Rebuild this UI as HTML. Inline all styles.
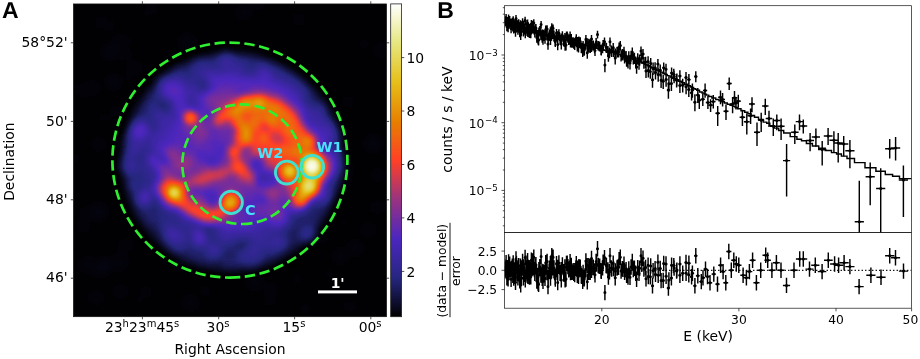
<!DOCTYPE html>
<html lang="en"><head><meta charset="utf-8"><title>Figure</title>
<style>
html,body{margin:0;padding:0;background:#fff;}
svg{display:block;}
text{font-family:"DejaVu Sans", "Liberation Sans", sans-serif;fill:#000;}
.b{font-family:"Liberation Sans", "DejaVu Sans", sans-serif;font-weight:700;}
.t{font-size:13.9px;}
.s{font-size:12.3px;}
.ax{stroke:#1a1a1a;stroke-width:.72;fill:none;}
.tk{stroke:#1a1a1a;stroke-width:.75;}
.d{stroke:#000;stroke-width:1.45;fill:none;}
</style></head><body>
<svg width="920" height="359" viewBox="0 0 920 359">
<defs>
<filter id="cmap" x="0" y="0" width="100%" height="100%" color-interpolation-filters="sRGB">
<feComponentTransfer>
<feFuncR type="table" tableValues="0 0.15 0.3 0.6 1 0.9 0.9 0.9 1"/>
<feFuncG type="table" tableValues="0 0.15 0.15 0.2 0.25 0.5 0.75 0.9 1"/>
<feFuncB type="table" tableValues="0 0.5 0.75 0.5 0.15 0 0.1 0.5 1"/>
</feComponentTransfer>
</filter>

<filter id="b14" x="-50%" y="-50%" width="200%" height="200%" color-interpolation-filters="sRGB"><feGaussianBlur stdDeviation="14"/></filter>
<filter id="b9" x="-50%" y="-50%" width="200%" height="200%" color-interpolation-filters="sRGB"><feGaussianBlur stdDeviation="9"/></filter>
<filter id="b6" x="-50%" y="-50%" width="200%" height="200%" color-interpolation-filters="sRGB"><feGaussianBlur stdDeviation="6"/></filter>
<filter id="b4" x="-50%" y="-50%" width="200%" height="200%" color-interpolation-filters="sRGB"><feGaussianBlur stdDeviation="4"/></filter>
<filter id="b3" x="-50%" y="-50%" width="200%" height="200%" color-interpolation-filters="sRGB"><feGaussianBlur stdDeviation="3"/></filter>
<filter id="b2" x="-50%" y="-50%" width="200%" height="200%" color-interpolation-filters="sRGB"><feGaussianBlur stdDeviation="2"/></filter>
<filter id="b15" x="-50%" y="-50%" width="200%" height="200%" color-interpolation-filters="sRGB"><feGaussianBlur stdDeviation="1.5"/></filter>
<clipPath id="imclip"><rect x="73.4" y="3.9" width="313.20000000000005" height="312.8"/></clipPath>
<clipPath id="pc1"><rect x="504.6" y="5.7" width="407.0" height="226.8"/></clipPath>
<clipPath id="pc2"><rect x="504.6" y="232.5" width="407.0" height="75.69999999999999"/></clipPath>
<linearGradient id="cbg" x1="0" y1="1" x2="0" y2="0"><stop offset="0.0" stop-color="#000000"/><stop offset="0.125" stop-color="#262680"/><stop offset="0.25" stop-color="#4c26bf"/><stop offset="0.375" stop-color="#993380"/><stop offset="0.5" stop-color="#ff4026"/><stop offset="0.625" stop-color="#e68000"/><stop offset="0.75" stop-color="#e6bf1a"/><stop offset="0.875" stop-color="#e6e680"/><stop offset="1.0" stop-color="#ffffff"/></linearGradient>
</defs>
<g clip-path="url(#imclip)"><g filter="url(#cmap)">
<rect x="53.400000000000006" y="-16.1" width="353.20000000000005" height="352.8" fill="#000"/>
<g filter="url(#b4)">
<rect x="53.400000000000006" y="-16.1" width="353.20000000000005" height="352.8" fill="#fff" fill-opacity="0.004"/>
<circle cx="174.8" cy="51.1" r="6.6" fill="#fff" fill-opacity="0.003"/>
<circle cx="241.2" cy="118.3" r="4.2" fill="#fff" fill-opacity="0.008"/>
<circle cx="85.1" cy="139.5" r="4.3" fill="#fff" fill-opacity="0.003"/>
<circle cx="206.4" cy="262.5" r="4.5" fill="#fff" fill-opacity="0.005"/>
<circle cx="269.9" cy="300.3" r="6.3" fill="#fff" fill-opacity="0.007"/>
<circle cx="379.2" cy="18.5" r="7.4" fill="#fff" fill-opacity="0.005"/>
<circle cx="118.6" cy="40.7" r="5.2" fill="#fff" fill-opacity="0.012"/>
<circle cx="130.0" cy="185.8" r="6.6" fill="#fff" fill-opacity="0.006"/>
<circle cx="245.0" cy="23.5" r="4.2" fill="#fff" fill-opacity="0.004"/>
<circle cx="286.5" cy="137.7" r="5.3" fill="#fff" fill-opacity="0.009"/>
<circle cx="215.3" cy="97.7" r="7.2" fill="#fff" fill-opacity="0.01"/>
<circle cx="149.9" cy="183.6" r="6.1" fill="#fff" fill-opacity="0.013"/>
<circle cx="301.9" cy="94.0" r="7.9" fill="#fff" fill-opacity="0.003"/>
<circle cx="204.4" cy="240.7" r="4.6" fill="#fff" fill-opacity="0.008"/>
<circle cx="85.7" cy="212.9" r="7.1" fill="#fff" fill-opacity="0.009"/>
<circle cx="347.6" cy="102.0" r="6.8" fill="#fff" fill-opacity="0.009"/>
<circle cx="255.0" cy="146.6" r="7.4" fill="#fff" fill-opacity="0.013"/>
<circle cx="221.9" cy="211.6" r="4.2" fill="#fff" fill-opacity="0.01"/>
<circle cx="276.1" cy="314.5" r="7.3" fill="#fff" fill-opacity="0.005"/>
<circle cx="194.2" cy="213.1" r="4.1" fill="#fff" fill-opacity="0.008"/>
<circle cx="126.0" cy="40.5" r="4.2" fill="#fff" fill-opacity="0.011"/>
<circle cx="113.9" cy="81.4" r="5.6" fill="#fff" fill-opacity="0.012"/>
<circle cx="98.6" cy="144.4" r="6.2" fill="#fff" fill-opacity="0.013"/>
<circle cx="330.0" cy="274.2" r="5.1" fill="#fff" fill-opacity="0.007"/>
<circle cx="185.8" cy="280.5" r="7.8" fill="#fff" fill-opacity="0.004"/>
<circle cx="128.6" cy="76.5" r="4.9" fill="#fff" fill-opacity="0.008"/>
<circle cx="257.9" cy="86.1" r="4.0" fill="#fff" fill-opacity="0.007"/>
<circle cx="189.1" cy="181.1" r="7.8" fill="#fff" fill-opacity="0.01"/>
<circle cx="234.9" cy="197.1" r="6.7" fill="#fff" fill-opacity="0.003"/>
<circle cx="355.1" cy="247.9" r="7.5" fill="#fff" fill-opacity="0.012"/>
<circle cx="196.3" cy="128.7" r="4.4" fill="#fff" fill-opacity="0.01"/>
<circle cx="92.9" cy="25.0" r="4.8" fill="#fff" fill-opacity="0.004"/>
<circle cx="179.9" cy="20.3" r="4.0" fill="#fff" fill-opacity="0.004"/>
<circle cx="105.2" cy="117.6" r="4.1" fill="#fff" fill-opacity="0.012"/>
<circle cx="265.7" cy="50.4" r="5.0" fill="#fff" fill-opacity="0.006"/>
<circle cx="187.5" cy="42.3" r="7.4" fill="#fff" fill-opacity="0.014"/>
<circle cx="219.3" cy="155.2" r="4.3" fill="#fff" fill-opacity="0.003"/>
<circle cx="180.7" cy="86.7" r="7.3" fill="#fff" fill-opacity="0.004"/>
<circle cx="80.6" cy="301.4" r="6.1" fill="#fff" fill-opacity="0.004"/>
<circle cx="243.5" cy="12.4" r="6.1" fill="#fff" fill-opacity="0.014"/>
<circle cx="343.8" cy="221.7" r="5.0" fill="#fff" fill-opacity="0.006"/>
<circle cx="125.7" cy="245.4" r="6.1" fill="#fff" fill-opacity="0.011"/>
<circle cx="176.7" cy="73.7" r="7.2" fill="#fff" fill-opacity="0.014"/>
<circle cx="340.4" cy="256.0" r="7.3" fill="#fff" fill-opacity="0.011"/>
<circle cx="144.4" cy="165.8" r="5.4" fill="#fff" fill-opacity="0.002"/>
<circle cx="82.1" cy="91.3" r="5.0" fill="#fff" fill-opacity="0.01"/>
<circle cx="373.0" cy="143.8" r="7.7" fill="#fff" fill-opacity="0.014"/>
<circle cx="372.5" cy="118.0" r="4.9" fill="#fff" fill-opacity="0.005"/>
<circle cx="135.0" cy="67.8" r="6.5" fill="#fff" fill-opacity="0.013"/>
<circle cx="336.6" cy="153.9" r="6.6" fill="#fff" fill-opacity="0.012"/>
<circle cx="100.0" cy="210.5" r="7.6" fill="#fff" fill-opacity="0.011"/>
<circle cx="308.3" cy="153.4" r="4.7" fill="#fff" fill-opacity="0.011"/>
<circle cx="177.5" cy="254.4" r="7.9" fill="#fff" fill-opacity="0.007"/>
<circle cx="199.1" cy="300.1" r="6.9" fill="#fff" fill-opacity="0.004"/>
<circle cx="113.2" cy="51.2" r="7.6" fill="#fff" fill-opacity="0.012"/>
<circle cx="119.2" cy="262.4" r="7.9" fill="#fff" fill-opacity="0.01"/>
<circle cx="183.1" cy="175.5" r="4.5" fill="#fff" fill-opacity="0.002"/>
<circle cx="377.5" cy="207.1" r="6.1" fill="#fff" fill-opacity="0.013"/>
<circle cx="209.3" cy="276.6" r="7.3" fill="#fff" fill-opacity="0.005"/>
<circle cx="152.3" cy="95.5" r="5.0" fill="#fff" fill-opacity="0.009"/>
<circle cx="154.6" cy="135.0" r="4.5" fill="#fff" fill-opacity="0.013"/>
<circle cx="184.2" cy="147.2" r="6.3" fill="#fff" fill-opacity="0.013"/>
<circle cx="205.1" cy="291.0" r="6.0" fill="#fff" fill-opacity="0.008"/>
<circle cx="237.4" cy="9.8" r="5.8" fill="#fff" fill-opacity="0.004"/>
<circle cx="74.6" cy="253.9" r="4.7" fill="#fff" fill-opacity="0.008"/>
<circle cx="300.5" cy="178.0" r="5.3" fill="#fff" fill-opacity="0.008"/>
<circle cx="247.4" cy="249.2" r="4.4" fill="#fff" fill-opacity="0.009"/>
<circle cx="151.2" cy="90.5" r="7.1" fill="#fff" fill-opacity="0.008"/>
<circle cx="249.3" cy="241.6" r="7.6" fill="#fff" fill-opacity="0.007"/>
<circle cx="265.2" cy="162.0" r="6.0" fill="#fff" fill-opacity="0.01"/>
<circle cx="215.1" cy="170.7" r="5.9" fill="#fff" fill-opacity="0.013"/>
<circle cx="292.4" cy="278.1" r="7.8" fill="#fff" fill-opacity="0.005"/>
<circle cx="248.6" cy="299.0" r="7.4" fill="#fff" fill-opacity="0.004"/>
<circle cx="111.5" cy="142.2" r="4.3" fill="#fff" fill-opacity="0.005"/>
<circle cx="96.3" cy="213.3" r="7.1" fill="#fff" fill-opacity="0.013"/>
<circle cx="121.8" cy="227.9" r="6.6" fill="#fff" fill-opacity="0.004"/>
<circle cx="349.9" cy="306.5" r="4.9" fill="#fff" fill-opacity="0.013"/>
<circle cx="198.1" cy="156.3" r="8.0" fill="#fff" fill-opacity="0.012"/>
<circle cx="124.0" cy="138.9" r="6.1" fill="#fff" fill-opacity="0.006"/>
<circle cx="134.7" cy="103.5" r="6.9" fill="#fff" fill-opacity="0.002"/>
<circle cx="246.9" cy="141.7" r="4.1" fill="#fff" fill-opacity="0.006"/>
<circle cx="268.8" cy="164.1" r="4.3" fill="#fff" fill-opacity="0.014"/>
<circle cx="320.3" cy="307.8" r="4.4" fill="#fff" fill-opacity="0.005"/>
<circle cx="85.8" cy="247.6" r="5.1" fill="#fff" fill-opacity="0.004"/>
<circle cx="205.7" cy="289.0" r="7.3" fill="#fff" fill-opacity="0.005"/>
<circle cx="120.2" cy="291.4" r="6.3" fill="#fff" fill-opacity="0.01"/>
<circle cx="101.4" cy="21.9" r="6.8" fill="#fff" fill-opacity="0.007"/>
<circle cx="96.1" cy="297.4" r="6.5" fill="#fff" fill-opacity="0.012"/>
<circle cx="99.6" cy="271.7" r="4.3" fill="#fff" fill-opacity="0.012"/>
<circle cx="215.5" cy="110.0" r="6.2" fill="#fff" fill-opacity="0.013"/>
<circle cx="157.3" cy="44.3" r="6.1" fill="#fff" fill-opacity="0.005"/>
<circle cx="107.7" cy="54.4" r="4.2" fill="#fff" fill-opacity="0.004"/>
<circle cx="171.1" cy="99.3" r="7.0" fill="#fff" fill-opacity="0.005"/>
<circle cx="230.0" cy="59.5" r="5.4" fill="#fff" fill-opacity="0.002"/>
<circle cx="151.8" cy="8.7" r="6.9" fill="#fff" fill-opacity="0.009"/>
<circle cx="132.7" cy="152.4" r="7.7" fill="#fff" fill-opacity="0.003"/>
<circle cx="329.9" cy="139.1" r="6.0" fill="#fff" fill-opacity="0.012"/>
<circle cx="196.5" cy="162.4" r="6.8" fill="#fff" fill-opacity="0.014"/>
<circle cx="180.7" cy="264.2" r="6.8" fill="#fff" fill-opacity="0.01"/>
<circle cx="200.2" cy="112.6" r="4.2" fill="#fff" fill-opacity="0.004"/>
<circle cx="95.6" cy="235.7" r="5.0" fill="#fff" fill-opacity="0.004"/>
<circle cx="99.9" cy="267.0" r="7.5" fill="#fff" fill-opacity="0.01"/>
<circle cx="161.7" cy="79.7" r="5.2" fill="#fff" fill-opacity="0.008"/>
<circle cx="122.7" cy="143.4" r="5.1" fill="#fff" fill-opacity="0.014"/>
<circle cx="378.0" cy="175.0" r="5.0" fill="#fff" fill-opacity="0.014"/>
<circle cx="170.4" cy="115.4" r="4.0" fill="#fff" fill-opacity="0.007"/>
<circle cx="222.1" cy="161.2" r="4.8" fill="#fff" fill-opacity="0.008"/>
<circle cx="75.0" cy="86.5" r="4.4" fill="#fff" fill-opacity="0.007"/>
<circle cx="86.5" cy="10.9" r="5.2" fill="#fff" fill-opacity="0.005"/>
<circle cx="256.8" cy="169.4" r="7.0" fill="#fff" fill-opacity="0.01"/>
<circle cx="297.6" cy="278.9" r="5.6" fill="#fff" fill-opacity="0.006"/>
<circle cx="381.8" cy="50.7" r="6.9" fill="#fff" fill-opacity="0.01"/>
<circle cx="87.1" cy="265.2" r="7.6" fill="#fff" fill-opacity="0.01"/>
<circle cx="303.2" cy="258.0" r="4.6" fill="#fff" fill-opacity="0.008"/>
<circle cx="231.4" cy="265.1" r="7.2" fill="#fff" fill-opacity="0.012"/>
<circle cx="256.3" cy="283.2" r="6.7" fill="#fff" fill-opacity="0.01"/>
<circle cx="145.4" cy="13.6" r="4.5" fill="#fff" fill-opacity="0.006"/>
<circle cx="106.3" cy="265.3" r="6.2" fill="#fff" fill-opacity="0.01"/>
<circle cx="269.5" cy="216.8" r="6.0" fill="#fff" fill-opacity="0.002"/>
<circle cx="323.2" cy="238.0" r="6.0" fill="#fff" fill-opacity="0.008"/>
<circle cx="279.9" cy="24.6" r="6.9" fill="#fff" fill-opacity="0.005"/>
<circle cx="96.7" cy="87.0" r="6.9" fill="#fff" fill-opacity="0.004"/>
<circle cx="305.1" cy="309.1" r="6.0" fill="#fff" fill-opacity="0.007"/>
<circle cx="223.4" cy="217.8" r="7.1" fill="#fff" fill-opacity="0.009"/>
<circle cx="274.7" cy="28.1" r="4.6" fill="#fff" fill-opacity="0.005"/>
<circle cx="306.2" cy="99.1" r="6.3" fill="#fff" fill-opacity="0.002"/>
<circle cx="92.4" cy="88.0" r="6.7" fill="#fff" fill-opacity="0.01"/>
<circle cx="285.0" cy="94.9" r="6.1" fill="#fff" fill-opacity="0.008"/>
<circle cx="219.5" cy="41.0" r="7.6" fill="#fff" fill-opacity="0.004"/>
<circle cx="379.7" cy="296.8" r="4.1" fill="#fff" fill-opacity="0.008"/>
<circle cx="330.2" cy="306.7" r="5.8" fill="#fff" fill-opacity="0.005"/>
<circle cx="139.1" cy="299.7" r="4.8" fill="#fff" fill-opacity="0.009"/>
<circle cx="117.8" cy="167.8" r="7.8" fill="#fff" fill-opacity="0.004"/>
<circle cx="330.3" cy="163.0" r="7.5" fill="#fff" fill-opacity="0.01"/>
<circle cx="145.9" cy="284.7" r="5.9" fill="#fff" fill-opacity="0.002"/>
<circle cx="74.5" cy="157.7" r="5.8" fill="#fff" fill-opacity="0.006"/>
<circle cx="117.5" cy="111.5" r="5.3" fill="#fff" fill-opacity="0.012"/>
<circle cx="73.9" cy="238.7" r="7.4" fill="#fff" fill-opacity="0.003"/>
<circle cx="363.5" cy="226.9" r="7.6" fill="#fff" fill-opacity="0.005"/>
<circle cx="190.0" cy="126.8" r="8.0" fill="#fff" fill-opacity="0.009"/>
<circle cx="186.4" cy="137.8" r="5.1" fill="#fff" fill-opacity="0.003"/>
<circle cx="105.3" cy="265.0" r="5.1" fill="#fff" fill-opacity="0.013"/>
<circle cx="151.5" cy="87.0" r="6.0" fill="#fff" fill-opacity="0.004"/>
<circle cx="190.3" cy="303.0" r="7.5" fill="#fff" fill-opacity="0.012"/>
<circle cx="271.0" cy="289.6" r="7.8" fill="#fff" fill-opacity="0.009"/>
<circle cx="298.8" cy="19.4" r="6.9" fill="#fff" fill-opacity="0.007"/>
<circle cx="309.1" cy="205.5" r="5.1" fill="#fff" fill-opacity="0.003"/>
<circle cx="363.7" cy="43.7" r="5.9" fill="#fff" fill-opacity="0.006"/>
<circle cx="166.7" cy="235.1" r="7.9" fill="#fff" fill-opacity="0.005"/>
<circle cx="278.9" cy="98.0" r="6.2" fill="#fff" fill-opacity="0.007"/>
<circle cx="125.8" cy="54.5" r="4.8" fill="#fff" fill-opacity="0.013"/>
<circle cx="229.1" cy="72.7" r="7.6" fill="#fff" fill-opacity="0.014"/>
<circle cx="214.3" cy="47.6" r="4.8" fill="#fff" fill-opacity="0.003"/>
<circle cx="180.5" cy="32.4" r="5.0" fill="#fff" fill-opacity="0.005"/>
<circle cx="251.8" cy="281.4" r="7.0" fill="#fff" fill-opacity="0.007"/>
<circle cx="203.0" cy="167.9" r="5.5" fill="#fff" fill-opacity="0.006"/>
<circle cx="92.8" cy="90.7" r="7.9" fill="#fff" fill-opacity="0.004"/>
<circle cx="231.1" cy="200.8" r="7.5" fill="#fff" fill-opacity="0.005"/>
<circle cx="158.3" cy="81.6" r="5.6" fill="#fff" fill-opacity="0.007"/>
<circle cx="372.2" cy="269.4" r="7.5" fill="#fff" fill-opacity="0.002"/>
<circle cx="83.5" cy="225.8" r="7.6" fill="#fff" fill-opacity="0.008"/>
<circle cx="257.3" cy="4.0" r="5.6" fill="#fff" fill-opacity="0.013"/>
<circle cx="332.0" cy="271.5" r="7.9" fill="#fff" fill-opacity="0.005"/>
<circle cx="107.6" cy="52.2" r="6.1" fill="#fff" fill-opacity="0.01"/>
<circle cx="368.3" cy="229.7" r="6.6" fill="#fff" fill-opacity="0.011"/>
<circle cx="216.6" cy="176.4" r="4.2" fill="#fff" fill-opacity="0.011"/>
<circle cx="146.2" cy="291.7" r="6.6" fill="#fff" fill-opacity="0.006"/>
<circle cx="113.5" cy="82.7" r="6.5" fill="#fff" fill-opacity="0.01"/>
<circle cx="108.5" cy="25.9" r="6.1" fill="#fff" fill-opacity="0.009"/>
<circle cx="194.9" cy="73.8" r="6.4" fill="#fff" fill-opacity="0.002"/>
</g>
<g filter="url(#b4)">
<circle cx="231.5" cy="161.5" r="108" fill="#fff" fill-opacity="0.1"/>
</g>
<g filter="url(#b9)">
<circle cx="233" cy="158" r="95" fill="#fff" fill-opacity="0.05"/>
<circle cx="235" cy="151" r="82" fill="#fff" fill-opacity="0.08"/>
<circle cx="240" cy="154" r="66" fill="#fff" fill-opacity="0.07"/>
<circle cx="243" cy="158" r="52" fill="#fff" fill-opacity="0.04"/>
<circle cx="150" cy="150" r="22" fill="#fff" fill-opacity="0.04"/>
<circle cx="322" cy="170" r="22" fill="#fff" fill-opacity="0.06"/>
</g>
<g filter="url(#b4)">
<circle cx="208.7" cy="231.0" r="7.9" fill="#000" fill-opacity="0.365"/>
<circle cx="180.3" cy="169.6" r="9.8" fill="#fff" fill-opacity="0.079"/>
<circle cx="226.4" cy="176.4" r="8.0" fill="#fff" fill-opacity="0.059"/>
<circle cx="228.0" cy="249.6" r="5.4" fill="#000" fill-opacity="0.11"/>
<circle cx="195.2" cy="221.1" r="5.2" fill="#000" fill-opacity="0.339"/>
<circle cx="226.8" cy="84.9" r="9.8" fill="#fff" fill-opacity="0.052"/>
<circle cx="254.1" cy="114.6" r="8.6" fill="#fff" fill-opacity="0.051"/>
<circle cx="304.6" cy="138.9" r="5.3" fill="#fff" fill-opacity="0.059"/>
<circle cx="178.6" cy="70.9" r="6.4" fill="#fff" fill-opacity="0.045"/>
<circle cx="272.1" cy="154.9" r="4.4" fill="#fff" fill-opacity="0.058"/>
<circle cx="313.4" cy="100.9" r="10.0" fill="#000" fill-opacity="0.379"/>
<circle cx="209.8" cy="202.4" r="8.5" fill="#000" fill-opacity="0.11"/>
<circle cx="198.0" cy="104.4" r="6.0" fill="#fff" fill-opacity="0.042"/>
<circle cx="289.1" cy="162.5" r="9.7" fill="#fff" fill-opacity="0.039"/>
<circle cx="280.0" cy="150.6" r="8.9" fill="#fff" fill-opacity="0.088"/>
<circle cx="210.2" cy="171.4" r="6.2" fill="#fff" fill-opacity="0.094"/>
<circle cx="254.8" cy="222.5" r="4.2" fill="#000" fill-opacity="0.223"/>
<circle cx="267.8" cy="74.0" r="4.2" fill="#fff" fill-opacity="0.034"/>
<circle cx="280.0" cy="135.1" r="9.4" fill="#000" fill-opacity="0.202"/>
<circle cx="217.2" cy="266.2" r="5.6" fill="#000" fill-opacity="0.315"/>
<circle cx="209.0" cy="213.3" r="8.5" fill="#fff" fill-opacity="0.094"/>
<circle cx="162.1" cy="83.3" r="5.4" fill="#fff" fill-opacity="0.063"/>
<circle cx="333.6" cy="133.2" r="5.5" fill="#fff" fill-opacity="0.06"/>
<circle cx="128.0" cy="165.8" r="8.8" fill="#fff" fill-opacity="0.082"/>
<circle cx="273.9" cy="76.3" r="6.0" fill="#000" fill-opacity="0.196"/>
<circle cx="170.3" cy="234.4" r="5.2" fill="#fff" fill-opacity="0.083"/>
<circle cx="232.5" cy="189.0" r="7.3" fill="#fff" fill-opacity="0.053"/>
<circle cx="332.7" cy="148.9" r="5.6" fill="#000" fill-opacity="0.125"/>
<circle cx="294.7" cy="204.9" r="6.7" fill="#000" fill-opacity="0.17"/>
<circle cx="158.3" cy="203.9" r="8.5" fill="#000" fill-opacity="0.354"/>
<circle cx="212.7" cy="129.2" r="5.8" fill="#000" fill-opacity="0.27"/>
<circle cx="167.2" cy="227.9" r="5.5" fill="#fff" fill-opacity="0.047"/>
<circle cx="290.0" cy="244.9" r="6.0" fill="#000" fill-opacity="0.219"/>
<circle cx="308.8" cy="157.9" r="8.9" fill="#fff" fill-opacity="0.076"/>
<circle cx="266.5" cy="159.5" r="8.9" fill="#fff" fill-opacity="0.089"/>
<circle cx="250.6" cy="150.4" r="4.7" fill="#fff" fill-opacity="0.043"/>
<circle cx="313.3" cy="147.6" r="6.2" fill="#000" fill-opacity="0.36"/>
<circle cx="179.7" cy="178.8" r="9.7" fill="#000" fill-opacity="0.132"/>
<circle cx="162.0" cy="113.2" r="6.2" fill="#fff" fill-opacity="0.04"/>
<circle cx="247.5" cy="213.8" r="7.9" fill="#000" fill-opacity="0.161"/>
<circle cx="293.6" cy="165.9" r="5.1" fill="#000" fill-opacity="0.194"/>
<circle cx="259.8" cy="253.7" r="4.4" fill="#fff" fill-opacity="0.037"/>
<circle cx="168.6" cy="210.5" r="4.5" fill="#000" fill-opacity="0.149"/>
<circle cx="208.7" cy="96.4" r="5.8" fill="#fff" fill-opacity="0.097"/>
<circle cx="201.0" cy="236.6" r="6.5" fill="#fff" fill-opacity="0.09"/>
<circle cx="297.1" cy="160.1" r="8.4" fill="#fff" fill-opacity="0.044"/>
<circle cx="334.5" cy="165.3" r="8.9" fill="#fff" fill-opacity="0.058"/>
<circle cx="286.3" cy="112.3" r="4.1" fill="#fff" fill-opacity="0.069"/>
<circle cx="166.7" cy="81.9" r="7.7" fill="#fff" fill-opacity="0.056"/>
<circle cx="190.8" cy="160.3" r="7.1" fill="#fff" fill-opacity="0.095"/>
<circle cx="290.6" cy="209.3" r="9.8" fill="#000" fill-opacity="0.159"/>
<circle cx="305.4" cy="236.4" r="6.9" fill="#000" fill-opacity="0.116"/>
<circle cx="292.2" cy="131.4" r="7.7" fill="#000" fill-opacity="0.347"/>
<circle cx="283.2" cy="242.4" r="6.4" fill="#fff" fill-opacity="0.089"/>
<circle cx="254.0" cy="120.9" r="6.4" fill="#fff" fill-opacity="0.066"/>
<circle cx="203.8" cy="186.8" r="8.3" fill="#fff" fill-opacity="0.093"/>
<circle cx="310.3" cy="182.2" r="4.2" fill="#000" fill-opacity="0.351"/>
<circle cx="293.8" cy="217.9" r="7.8" fill="#000" fill-opacity="0.192"/>
<circle cx="159.7" cy="201.2" r="8.0" fill="#fff" fill-opacity="0.061"/>
<circle cx="216.7" cy="167.7" r="6.9" fill="#000" fill-opacity="0.171"/>
<circle cx="240.1" cy="66.5" r="5.1" fill="#fff" fill-opacity="0.063"/>
<circle cx="262.3" cy="185.6" r="4.6" fill="#fff" fill-opacity="0.061"/>
<circle cx="210.2" cy="160.1" r="4.5" fill="#000" fill-opacity="0.32"/>
<circle cx="245.3" cy="85.4" r="7.0" fill="#fff" fill-opacity="0.056"/>
<circle cx="270.0" cy="149.4" r="10.0" fill="#000" fill-opacity="0.32"/>
<circle cx="250.9" cy="117.9" r="7.0" fill="#000" fill-opacity="0.387"/>
<circle cx="269.9" cy="139.4" r="9.6" fill="#000" fill-opacity="0.12"/>
<circle cx="176.4" cy="237.2" r="9.4" fill="#fff" fill-opacity="0.049"/>
<circle cx="248.4" cy="124.0" r="9.5" fill="#fff" fill-opacity="0.045"/>
<circle cx="225.8" cy="238.1" r="4.2" fill="#fff" fill-opacity="0.043"/>
<circle cx="287.3" cy="250.2" r="9.4" fill="#000" fill-opacity="0.151"/>
<circle cx="240.0" cy="125.7" r="7.8" fill="#fff" fill-opacity="0.055"/>
<circle cx="288.2" cy="103.9" r="9.3" fill="#000" fill-opacity="0.131"/>
<circle cx="317.6" cy="157.7" r="8.8" fill="#fff" fill-opacity="0.049"/>
<circle cx="313.9" cy="156.6" r="8.6" fill="#fff" fill-opacity="0.061"/>
<circle cx="273.4" cy="244.9" r="8.9" fill="#fff" fill-opacity="0.048"/>
<circle cx="163.3" cy="79.3" r="8.0" fill="#000" fill-opacity="0.194"/>
<circle cx="251.9" cy="161.7" r="7.7" fill="#fff" fill-opacity="0.06"/>
<circle cx="130.1" cy="153.4" r="5.4" fill="#fff" fill-opacity="0.076"/>
<circle cx="237.5" cy="162.3" r="4.6" fill="#fff" fill-opacity="0.055"/>
<circle cx="245.3" cy="242.9" r="5.2" fill="#000" fill-opacity="0.287"/>
<circle cx="192.8" cy="167.7" r="5.5" fill="#000" fill-opacity="0.145"/>
<circle cx="303.1" cy="210.4" r="8.7" fill="#000" fill-opacity="0.221"/>
<circle cx="231.0" cy="173.0" r="7.4" fill="#000" fill-opacity="0.205"/>
<circle cx="188.1" cy="104.5" r="8.4" fill="#000" fill-opacity="0.175"/>
<circle cx="250.6" cy="148.6" r="6.4" fill="#fff" fill-opacity="0.047"/>
<circle cx="321.0" cy="195.7" r="7.3" fill="#fff" fill-opacity="0.096"/>
<circle cx="262.2" cy="199.1" r="7.0" fill="#000" fill-opacity="0.292"/>
<circle cx="249.5" cy="119.9" r="5.8" fill="#fff" fill-opacity="0.033"/>
<circle cx="305.4" cy="100.3" r="4.0" fill="#000" fill-opacity="0.353"/>
<circle cx="229.8" cy="87.9" r="6.7" fill="#000" fill-opacity="0.168"/>
<circle cx="273.1" cy="193.5" r="6.0" fill="#fff" fill-opacity="0.082"/>
<circle cx="198.4" cy="68.0" r="5.6" fill="#000" fill-opacity="0.266"/>
<circle cx="143.7" cy="199.0" r="5.6" fill="#fff" fill-opacity="0.075"/>
<circle cx="281.1" cy="150.6" r="4.1" fill="#000" fill-opacity="0.178"/>
<circle cx="240.1" cy="254.3" r="8.5" fill="#000" fill-opacity="0.198"/>
<circle cx="277.2" cy="119.2" r="9.4" fill="#fff" fill-opacity="0.074"/>
<circle cx="201.0" cy="79.0" r="6.8" fill="#000" fill-opacity="0.352"/>
<circle cx="199.7" cy="66.9" r="8.3" fill="#fff" fill-opacity="0.07"/>
<circle cx="214.4" cy="208.0" r="4.5" fill="#000" fill-opacity="0.373"/>
<circle cx="242.9" cy="175.5" r="9.6" fill="#fff" fill-opacity="0.054"/>
<circle cx="243.5" cy="175.7" r="8.2" fill="#fff" fill-opacity="0.074"/>
<circle cx="201.7" cy="73.9" r="7.5" fill="#fff" fill-opacity="0.055"/>
<circle cx="272.3" cy="72.4" r="4.4" fill="#000" fill-opacity="0.36"/>
<circle cx="322.1" cy="107.7" r="5.2" fill="#fff" fill-opacity="0.038"/>
<circle cx="329.1" cy="182.8" r="7.8" fill="#000" fill-opacity="0.348"/>
<circle cx="192.8" cy="118.9" r="4.6" fill="#fff" fill-opacity="0.083"/>
<circle cx="249.0" cy="220.1" r="4.1" fill="#fff" fill-opacity="0.048"/>
<circle cx="213.4" cy="251.0" r="5.9" fill="#fff" fill-opacity="0.097"/>
<circle cx="132.4" cy="159.2" r="4.2" fill="#000" fill-opacity="0.224"/>
<circle cx="144.5" cy="198.4" r="8.2" fill="#fff" fill-opacity="0.068"/>
<circle cx="252.9" cy="259.6" r="8.9" fill="#fff" fill-opacity="0.042"/>
<circle cx="280.5" cy="161.9" r="9.9" fill="#000" fill-opacity="0.101"/>
<circle cx="156.4" cy="165.9" r="5.1" fill="#000" fill-opacity="0.248"/>
<circle cx="175.5" cy="242.2" r="9.7" fill="#fff" fill-opacity="0.05"/>
<circle cx="251.9" cy="249.6" r="4.7" fill="#fff" fill-opacity="0.075"/>
<circle cx="315.8" cy="208.1" r="8.7" fill="#000" fill-opacity="0.288"/>
<circle cx="189.9" cy="215.4" r="9.3" fill="#fff" fill-opacity="0.036"/>
<circle cx="245.1" cy="150.4" r="5.6" fill="#fff" fill-opacity="0.093"/>
<circle cx="165.5" cy="161.0" r="5.4" fill="#000" fill-opacity="0.238"/>
<circle cx="140.0" cy="143.0" r="7.9" fill="#000" fill-opacity="0.205"/>
<circle cx="212.3" cy="199.2" r="8.0" fill="#000" fill-opacity="0.323"/>
<circle cx="266.6" cy="224.1" r="7.5" fill="#000" fill-opacity="0.138"/>
<circle cx="133.3" cy="185.5" r="5.1" fill="#fff" fill-opacity="0.051"/>
<circle cx="203.2" cy="66.6" r="4.9" fill="#fff" fill-opacity="0.047"/>
<circle cx="195.9" cy="230.7" r="6.0" fill="#fff" fill-opacity="0.043"/>
<circle cx="323.1" cy="147.2" r="9.8" fill="#fff" fill-opacity="0.037"/>
<circle cx="152.0" cy="232.7" r="8.4" fill="#000" fill-opacity="0.23"/>
<circle cx="260.6" cy="242.9" r="5.2" fill="#fff" fill-opacity="0.057"/>
<circle cx="298.7" cy="175.9" r="8.2" fill="#000" fill-opacity="0.25"/>
<circle cx="182.5" cy="107.2" r="7.6" fill="#fff" fill-opacity="0.058"/>
<circle cx="226.1" cy="58.8" r="7.4" fill="#fff" fill-opacity="0.082"/>
<circle cx="186.6" cy="186.0" r="9.3" fill="#000" fill-opacity="0.332"/>
<circle cx="201.2" cy="66.7" r="7.8" fill="#000" fill-opacity="0.236"/>
<circle cx="199.0" cy="240.5" r="6.5" fill="#fff" fill-opacity="0.085"/>
<circle cx="212.3" cy="78.1" r="6.5" fill="#fff" fill-opacity="0.062"/>
<circle cx="182.1" cy="113.7" r="9.6" fill="#000" fill-opacity="0.155"/>
<circle cx="178.2" cy="82.9" r="6.9" fill="#fff" fill-opacity="0.098"/>
<circle cx="309.3" cy="180.4" r="8.7" fill="#fff" fill-opacity="0.096"/>
<circle cx="197.9" cy="157.4" r="7.2" fill="#000" fill-opacity="0.315"/>
<circle cx="145.9" cy="154.9" r="7.1" fill="#000" fill-opacity="0.223"/>
<circle cx="278.9" cy="145.6" r="6.4" fill="#000" fill-opacity="0.329"/>
<circle cx="309.0" cy="236.0" r="4.3" fill="#fff" fill-opacity="0.049"/>
<circle cx="221.9" cy="168.8" r="6.5" fill="#fff" fill-opacity="0.079"/>
<circle cx="198.7" cy="206.1" r="8.4" fill="#fff" fill-opacity="0.096"/>
<circle cx="182.2" cy="152.9" r="6.4" fill="#000" fill-opacity="0.164"/>
<circle cx="297.5" cy="230.6" r="7.8" fill="#000" fill-opacity="0.241"/>
<circle cx="184.5" cy="142.0" r="6.1" fill="#000" fill-opacity="0.292"/>
<circle cx="272.8" cy="72.9" r="5.8" fill="#fff" fill-opacity="0.068"/>
<circle cx="301.7" cy="231.3" r="9.1" fill="#fff" fill-opacity="0.049"/>
<circle cx="193.3" cy="199.7" r="5.1" fill="#fff" fill-opacity="0.03"/>
<circle cx="221.9" cy="105.1" r="5.8" fill="#fff" fill-opacity="0.064"/>
<circle cx="154.3" cy="198.9" r="6.2" fill="#000" fill-opacity="0.379"/>
<circle cx="247.7" cy="141.1" r="9.4" fill="#000" fill-opacity="0.335"/>
<circle cx="294.6" cy="237.5" r="4.1" fill="#000" fill-opacity="0.103"/>
<circle cx="315.5" cy="135.4" r="4.6" fill="#fff" fill-opacity="0.04"/>
<circle cx="241.8" cy="256.2" r="4.9" fill="#fff" fill-opacity="0.093"/>
<circle cx="243.5" cy="118.8" r="7.7" fill="#000" fill-opacity="0.334"/>
<circle cx="181.9" cy="72.5" r="9.0" fill="#000" fill-opacity="0.159"/>
<circle cx="204.3" cy="87.8" r="6.6" fill="#000" fill-opacity="0.365"/>
<circle cx="179.7" cy="142.7" r="4.8" fill="#fff" fill-opacity="0.065"/>
<circle cx="300.9" cy="188.0" r="6.9" fill="#fff" fill-opacity="0.065"/>
<circle cx="134.8" cy="136.8" r="9.0" fill="#fff" fill-opacity="0.063"/>
<circle cx="150.6" cy="127.8" r="6.2" fill="#000" fill-opacity="0.226"/>
<circle cx="260.8" cy="154.2" r="7.8" fill="#000" fill-opacity="0.109"/>
<circle cx="163.1" cy="104.8" r="6.0" fill="#000" fill-opacity="0.395"/>
<circle cx="157.0" cy="156.5" r="4.2" fill="#000" fill-opacity="0.315"/>
<circle cx="187.6" cy="117.0" r="6.2" fill="#000" fill-opacity="0.242"/>
<circle cx="138.4" cy="146.4" r="6.6" fill="#fff" fill-opacity="0.06"/>
<circle cx="139.4" cy="128.8" r="9.0" fill="#fff" fill-opacity="0.058"/>
<circle cx="175.7" cy="160.2" r="9.8" fill="#fff" fill-opacity="0.076"/>
<circle cx="248.2" cy="101.5" r="5.8" fill="#fff" fill-opacity="0.071"/>
<circle cx="168.7" cy="89.8" r="8.3" fill="#fff" fill-opacity="0.092"/>
<circle cx="208.9" cy="154.7" r="4.0" fill="#fff" fill-opacity="0.043"/>
<circle cx="306.2" cy="121.6" r="8.7" fill="#000" fill-opacity="0.373"/>
<circle cx="167.2" cy="106.7" r="8.2" fill="#000" fill-opacity="0.279"/>
<circle cx="211.1" cy="116.3" r="6.7" fill="#000" fill-opacity="0.329"/>
<circle cx="269.0" cy="188.8" r="8.6" fill="#fff" fill-opacity="0.094"/>
<circle cx="195.4" cy="107.1" r="8.7" fill="#000" fill-opacity="0.269"/>
<circle cx="229.0" cy="220.8" r="5.9" fill="#fff" fill-opacity="0.06"/>
<circle cx="166.4" cy="80.4" r="7.4" fill="#fff" fill-opacity="0.033"/>
<circle cx="303.4" cy="227.5" r="9.5" fill="#000" fill-opacity="0.234"/>
<circle cx="298.9" cy="167.5" r="9.6" fill="#000" fill-opacity="0.394"/>
<circle cx="163.5" cy="172.2" r="7.9" fill="#fff" fill-opacity="0.045"/>
<circle cx="239.8" cy="172.5" r="8.1" fill="#fff" fill-opacity="0.039"/>
<circle cx="263.3" cy="154.8" r="4.8" fill="#000" fill-opacity="0.105"/>
<circle cx="221.8" cy="109.3" r="5.1" fill="#000" fill-opacity="0.115"/>
<circle cx="245.7" cy="71.3" r="8.4" fill="#000" fill-opacity="0.125"/>
<circle cx="169.2" cy="95.7" r="9.6" fill="#fff" fill-opacity="0.048"/>
<circle cx="321.2" cy="141.2" r="4.1" fill="#fff" fill-opacity="0.076"/>
<circle cx="244.5" cy="133.7" r="8.4" fill="#fff" fill-opacity="0.042"/>
<circle cx="280.4" cy="103.8" r="6.2" fill="#fff" fill-opacity="0.07"/>
<circle cx="149.7" cy="194.9" r="8.8" fill="#fff" fill-opacity="0.055"/>
<circle cx="179.4" cy="93.8" r="6.3" fill="#fff" fill-opacity="0.085"/>
<circle cx="322.0" cy="129.1" r="5.8" fill="#000" fill-opacity="0.118"/>
<circle cx="321.4" cy="146.7" r="6.0" fill="#000" fill-opacity="0.282"/>
<circle cx="329.5" cy="147.6" r="5.9" fill="#000" fill-opacity="0.229"/>
<circle cx="282.6" cy="118.6" r="7.6" fill="#000" fill-opacity="0.369"/>
<circle cx="252.3" cy="107.7" r="5.6" fill="#fff" fill-opacity="0.06"/>
<circle cx="148.5" cy="111.0" r="4.3" fill="#000" fill-opacity="0.35"/>
<circle cx="270.1" cy="68.4" r="5.6" fill="#000" fill-opacity="0.355"/>
<circle cx="263.3" cy="77.8" r="6.1" fill="#000" fill-opacity="0.126"/>
<circle cx="141.0" cy="129.6" r="8.5" fill="#fff" fill-opacity="0.095"/>
<circle cx="240.4" cy="245.2" r="6.8" fill="#000" fill-opacity="0.162"/>
<circle cx="229.2" cy="255.1" r="6.8" fill="#000" fill-opacity="0.126"/>
<circle cx="265.0" cy="72.5" r="7.5" fill="#fff" fill-opacity="0.093"/>
<circle cx="290.6" cy="109.9" r="7.5" fill="#fff" fill-opacity="0.043"/>
<circle cx="248.3" cy="204.4" r="6.2" fill="#000" fill-opacity="0.269"/>
<circle cx="168.5" cy="206.2" r="4.3" fill="#fff" fill-opacity="0.1"/>
<circle cx="207.3" cy="186.5" r="8.7" fill="#000" fill-opacity="0.147"/>
<circle cx="180.0" cy="125.1" r="4.1" fill="#fff" fill-opacity="0.032"/>
<circle cx="332.3" cy="155.4" r="7.4" fill="#fff" fill-opacity="0.048"/>
<circle cx="244.9" cy="92.2" r="8.6" fill="#000" fill-opacity="0.346"/>
<circle cx="285.0" cy="149.1" r="5.2" fill="#fff" fill-opacity="0.043"/>
<circle cx="253.1" cy="173.7" r="9.2" fill="#000" fill-opacity="0.237"/>
<circle cx="329.4" cy="127.9" r="7.6" fill="#fff" fill-opacity="0.058"/>
<circle cx="309.1" cy="233.9" r="7.4" fill="#fff" fill-opacity="0.075"/>
<circle cx="317.1" cy="137.6" r="6.7" fill="#fff" fill-opacity="0.041"/>
<circle cx="337.1" cy="138.5" r="4.2" fill="#fff" fill-opacity="0.048"/>
<circle cx="170.6" cy="243.7" r="9.0" fill="#000" fill-opacity="0.114"/>
<circle cx="252.6" cy="72.9" r="9.9" fill="#000" fill-opacity="0.117"/>
<circle cx="289.6" cy="235.6" r="8.1" fill="#000" fill-opacity="0.19"/>
<circle cx="153.1" cy="110.4" r="5.9" fill="#fff" fill-opacity="0.048"/>
<circle cx="285.3" cy="214.2" r="5.4" fill="#fff" fill-opacity="0.04"/>
<circle cx="226.7" cy="150.6" r="5.2" fill="#000" fill-opacity="0.111"/>
<circle cx="277.6" cy="139.2" r="9.2" fill="#000" fill-opacity="0.367"/>
<circle cx="278.1" cy="217.1" r="9.6" fill="#fff" fill-opacity="0.089"/>
<circle cx="181.7" cy="109.1" r="8.9" fill="#fff" fill-opacity="0.063"/>
<circle cx="203.7" cy="132.1" r="4.3" fill="#fff" fill-opacity="0.08"/>
<circle cx="193.2" cy="148.0" r="5.6" fill="#000" fill-opacity="0.224"/>
</g>
<g filter="url(#b9)">
<circle cx="247" cy="160" r="57" fill="none" stroke="#fff" stroke-opacity="0.07" stroke-width="30"/>
<path d="M222 108 A57 57 0 0 1 300 200" fill="none" stroke="#fff" stroke-opacity="0.07" stroke-width="34"/>
</g>
<g filter="url(#b6)">
<circle cx="312" cy="172" r="17" fill="#fff" fill-opacity="0.22"/>
<circle cx="174" cy="192" r="14" fill="#fff" fill-opacity="0.18"/>
<circle cx="268" cy="130" r="30" fill="#fff" fill-opacity="0.1"/>
<circle cx="190" cy="117.5" r="8" fill="#fff" fill-opacity="0.12"/>
<path d="M180 198 L198 212 L220 213" fill="none" stroke="#fff" stroke-opacity="0.12" stroke-width="13" stroke-linecap="round" stroke-linejoin="round"/>
</g>
<g filter="url(#b4)">
<path d="M228 112 L240 102 L256 98 L272 101 L286 109 L298 120 L308 134 L315 148 L324 160 L326 172 L318 186 L306 200 L296 206 L290 192 L282 178 L270 164 L254 154 L242 146 L234 134 Z" fill="#fff" fill-opacity="0.25"/>
<path d="M218 120 L223 115 L232 110 L243 105.5 L257 103 L271 107 L283.5 117 L293.5 129.5 L301.5 145 L305.6 156" fill="none" stroke="#fff" stroke-opacity="0.17" stroke-width="9" stroke-linecap="round" stroke-linejoin="round"/>
<path d="M236 103 L248 98.5 L262 98 L275 101.5 L288 110 L299 122 L307 136 L312 148" fill="none" stroke="#fff" stroke-opacity="0.16" stroke-width="8" stroke-linecap="round" stroke-linejoin="round"/>
<path d="M250 114 L262 119 L273 122 L284 131 L292 141" fill="none" stroke="#fff" stroke-opacity="0.1" stroke-width="6" stroke-linecap="round" stroke-linejoin="round"/>
<path d="M246 130 L256 135 L264 139 L274 146 L284 152 L297 153" fill="none" stroke="#fff" stroke-opacity="0.12" stroke-width="6" stroke-linecap="round" stroke-linejoin="round"/>
<path d="M238 117 L243 127 L248 137 L240 144.5 L233 152 L237 164 L245 172 L253 180" fill="none" stroke="#fff" stroke-opacity="0.3" stroke-width="9" stroke-linecap="round" stroke-linejoin="round"/>
<path d="M216.5 122 L224 115 L233 110 L243 106.5" fill="none" stroke="#fff" stroke-opacity="0.27" stroke-width="8" stroke-linecap="round" stroke-linejoin="round"/>
<path d="M176 190 L186 183.5 L200 179.5 L214 176 L226 172 L236 168" fill="none" stroke="#fff" stroke-opacity="0.26" stroke-width="8" stroke-linecap="round" stroke-linejoin="round"/>
<path d="M177 196 L184 205 L196 212.5 L205 217 L215 216 L225 209 L231 202" fill="none" stroke="#fff" stroke-opacity="0.3" stroke-width="10" stroke-linecap="round" stroke-linejoin="round"/>
<circle cx="173" cy="192" r="12.5" fill="#fff" fill-opacity="0.26"/>
<circle cx="163" cy="187" r="7" fill="#fff" fill-opacity="0.2"/>
<path d="M151 158 L158 164 L165 172 L171 182" fill="none" stroke="#fff" stroke-opacity="0.2" stroke-width="6" stroke-linecap="round" stroke-linejoin="round"/>
<circle cx="172.5" cy="153.5" r="5" fill="#fff" fill-opacity="0.16"/>
<circle cx="163" cy="150" r="5" fill="#fff" fill-opacity="0.08"/>
<circle cx="316" cy="167" r="14" fill="#fff" fill-opacity="0.15"/>
<path d="M311 170 L310 184 L305 194 L297 204" fill="none" stroke="#fff" stroke-opacity="0.24" stroke-width="15" stroke-linecap="round" stroke-linejoin="round"/>
</g>
<g filter="url(#b3)">
<circle cx="265" cy="127" r="4" fill="#000" fill-opacity="0.22"/>
<circle cx="248" cy="150" r="5" fill="#000" fill-opacity="0.22"/>
<ellipse cx="258" cy="163" rx="7" ry="6" transform="rotate(20 258 163)" fill="#000" fill-opacity="0.3"/>
<ellipse cx="266" cy="181" rx="11" ry="9" transform="rotate(0 266 181)" fill="#000" fill-opacity="0.3"/>
<circle cx="257" cy="135" r="4" fill="#000" fill-opacity="0.15"/>
<circle cx="234" cy="131" r="4.5" fill="#000" fill-opacity="0.22"/>
<circle cx="300" cy="162" r="3.5" fill="#000" fill-opacity="0.15"/>
<ellipse cx="212" cy="150" rx="12" ry="14" transform="rotate(0 212 150)" fill="#000" fill-opacity="0.12"/>
<ellipse cx="202" cy="192" rx="9" ry="5" transform="rotate(0 202 192)" fill="#000" fill-opacity="0.18"/>
</g>
<g filter="url(#b3)">
<circle cx="190.2" cy="117.5" r="6.5" fill="#fff" fill-opacity="0.42"/>
<circle cx="245" cy="101" r="5" fill="#fff" fill-opacity="0.2"/>
<circle cx="260" cy="101.5" r="5.5" fill="#fff" fill-opacity="0.25"/>
<circle cx="252" cy="99" r="4" fill="#fff" fill-opacity="0.12"/>
<circle cx="271.7" cy="120" r="5" fill="#fff" fill-opacity="0.14"/>
<circle cx="288.4" cy="131.7" r="5" fill="#fff" fill-opacity="0.14"/>
<circle cx="263.4" cy="138.4" r="5" fill="#fff" fill-opacity="0.14"/>
<circle cx="253.4" cy="121.7" r="5" fill="#fff" fill-opacity="0.14"/>
<circle cx="309.5" cy="141.5" r="5.5" fill="#fff" fill-opacity="0.3"/>
<circle cx="246.8" cy="138.4" r="5" fill="#fff" fill-opacity="0.16"/>
<circle cx="233.4" cy="152" r="5" fill="#fff" fill-opacity="0.16"/>
<circle cx="237" cy="137" r="4.5" fill="#fff" fill-opacity="0.12"/>
<circle cx="280" cy="150" r="6" fill="#fff" fill-opacity="0.12"/>
<circle cx="296" cy="152" r="6" fill="#fff" fill-opacity="0.14"/>
<circle cx="271" cy="146" r="5" fill="#fff" fill-opacity="0.12"/>
<circle cx="173.8" cy="192.6" r="6.5" fill="#fff" fill-opacity="0.45"/>
<circle cx="231.2" cy="201.5" r="8.5" fill="#fff" fill-opacity="0.47"/>
<circle cx="289" cy="171.5" r="9" fill="#fff" fill-opacity="0.42"/>
<circle cx="309" cy="187.5" r="9" fill="#fff" fill-opacity="0.45"/>
<circle cx="301.5" cy="199.5" r="6.5" fill="#fff" fill-opacity="0.28"/>
<circle cx="311.5" cy="166" r="11" fill="#fff" fill-opacity="0.42"/>
</g>
<g filter="url(#b2)">
<circle cx="311.8" cy="166" r="6.8" fill="#fff" fill-opacity="0.85"/>
<circle cx="290" cy="170.5" r="4.5" fill="#fff" fill-opacity="0.3"/>
<circle cx="173.6" cy="192.6" r="3.4" fill="#fff" fill-opacity="0.32"/>
<circle cx="309" cy="186.5" r="4.5" fill="#fff" fill-opacity="0.3"/>
</g>
</g>
<path d="M229.9 277.6 A117.5 117.5 0 1 0 229.9 42.599999999999994 A117.5 117.5 0 1 0 229.9 277.6" fill="none" stroke="#30ee30" stroke-width="2.7" stroke-dasharray="10.4 4.56"/>
<path d="M242.1 224.0 A59.8 59.8 0 1 0 242.1 104.39999999999999 A59.8 59.8 0 1 0 242.1 224.0" fill="none" stroke="#30ee30" stroke-width="2.7" stroke-dasharray="10.4 4.56"/>
<circle cx="312.3" cy="166.7" r="11.3" fill="none" stroke="#3fe0d0" stroke-width="2.8"/>
<circle cx="286.8" cy="172.6" r="11.4" fill="none" stroke="#3fe0d0" stroke-width="2.8"/>
<circle cx="231.2" cy="202.4" r="11.2" fill="none" stroke="#3fe0d0" stroke-width="2.8"/>
<text x="316.6" y="152.4" font-size="14.5px" font-weight="700" style="fill:#48e2fb">W1</text>
<text x="257.2" y="158.0" font-size="14.5px" font-weight="700" style="fill:#48e2fb">W2</text>
<text x="245.0" y="214.6" font-size="14.5px" font-weight="700" style="fill:#48e2fb">C</text>
<rect x="318" y="290.4" width="39" height="3" fill="#fff"/>
<text x="337.6" y="287.6" font-size="13.9px" font-weight="700" text-anchor="middle" style="fill:#fff">1'</text>
</g>
<rect class="ax" x="73.4" y="3.9" width="313.20000000000005" height="312.8"/>
<path class="tk" d="M142.4 316.7v2.6M142.4 3.9v-2.6"/>
<path class="tk" d="M218.7 316.7v2.6M218.7 3.9v-2.6"/>
<path class="tk" d="M294.6 316.7v2.6M294.6 3.9v-2.6"/>
<path class="tk" d="M370.8 316.7v2.6M370.8 3.9v-2.6"/>
<path class="tk" d="M73.4 42.8h-2.6M386.6 42.8h2.6"/>
<path class="tk" d="M73.4 121.4h-2.6M386.6 121.4h2.6"/>
<path class="tk" d="M73.4 199.8h-2.6M386.6 199.8h2.6"/>
<path class="tk" d="M73.4 278.2h-2.6M386.6 278.2h2.6"/>
<text class="t" x="67.6" y="47.0" text-anchor="end">58°52'</text>
<text class="t" x="67.6" y="125.6" text-anchor="end">50'</text>
<text class="t" x="67.6" y="204.0" text-anchor="end">48'</text>
<text class="t" x="67.6" y="282.4" text-anchor="end">46'</text>
<text class="t" x="142.1" y="332.1" text-anchor="middle">23<tspan dy="-5.4" font-size="10px">h</tspan><tspan dy="5.4">23</tspan><tspan dy="-5.4" font-size="10px">m</tspan><tspan dy="5.4">45</tspan><tspan dy="-5.4" font-size="10px">s</tspan></text>
<text class="t" x="218.0" y="332.1" text-anchor="middle">30<tspan dy="-5.4" font-size="10px">s</tspan></text>
<text class="t" x="293.90000000000003" y="332.1" text-anchor="middle">15<tspan dy="-5.4" font-size="10px">s</tspan></text>
<text class="t" x="370.1" y="332.1" text-anchor="middle">00<tspan dy="-5.4" font-size="10px">s</tspan></text>
<text class="t" x="230.0" y="353.5" text-anchor="middle" font-size="14.15px">Right Ascension</text>
<text class="t" transform="translate(14.2 161.6) rotate(-90)" text-anchor="middle">Declination</text>
<text class="b" x="1.9" y="18.3" font-size="23.0px" text-rendering="geometricPrecision">A</text>
<text class="b" x="437.3" y="18.3" font-size="23.0px" text-rendering="geometricPrecision">B</text>
<rect x="390.7" y="3.9" width="10.900000000000034" height="312.8" fill="url(#cbg)" stroke="#222" stroke-width=".8"/>
<path class="tk" d="M401.6 57.6h2.7"/>
<text class="t" x="406.5" y="62.8">10</text>
<path class="tk" d="M401.6 111.0h2.7"/>
<text class="t" x="406.6" y="116.2">8</text>
<path class="tk" d="M401.6 164.5h2.7"/>
<text class="t" x="406.6" y="169.7">6</text>
<path class="tk" d="M401.6 217.9h2.7"/>
<text class="t" x="406.6" y="223.1">4</text>
<path class="tk" d="M401.6 271.4h2.7"/>
<text class="t" x="406.6" y="276.6">2</text>
<g clip-path="url(#pc1)">
<path class="d" d="M504.6 21.7V21.7H505.6V21.9H505.9V22.0H506.3V22.1H506.7V22.2H507.2V22.4H507.6V22.5H508.0V22.6H508.4V22.7H508.7V22.8H509.2V23.0H509.6V23.1H510.0V23.2H510.5V23.3H510.8V23.5H511.3V23.6H511.7V23.7H512.1V23.8H512.5V24.0H513.0V24.1H513.5V24.3H513.8V24.4H514.2V24.5H514.6V24.6H515.0V24.8H515.4V24.8H515.8V25.0H516.2V25.1H516.7V25.3H517.0V25.3H517.5V25.6H517.9V25.6H518.3V25.8H518.7V25.8H519.2V26.1H519.7V26.1H520.1V26.3H520.6V26.4H521.0V26.6H521.5V26.7H522.0V26.9H522.5V27.0H523.0V27.2H523.4V27.2H523.8V27.5H524.3V27.5H524.7V27.8H525.2V27.8H525.6V28.0H526.1V28.1H526.5V28.3H526.9V28.4H527.4V28.5H527.8V28.6H528.2V28.8H528.6V28.9H529.1V29.1H529.6V29.2H530.1V29.4H530.6V29.5H531.1V29.7H531.7V29.8H532.2V30.0H532.6V30.1H533.1V30.3H533.6V30.4H534.1V30.6H534.6V30.7H535.1V30.9H535.7V31.0H536.2V31.2H536.6V31.3H537.1V31.5H537.7V31.7H538.3V31.9H538.7V32.0H539.3V32.2H539.9V32.3H540.4V32.5H541.0V32.6H541.5V32.9H542.1V32.9H542.6V33.1H543.2V33.2H543.7V33.4H544.3V33.6H544.8V33.7H545.4V33.9H545.8V34.0H546.4V34.2H547.0V34.3H547.6V34.5H548.1V34.6H548.7V34.9H549.3V34.9H549.9V35.2H550.4V35.2H551.1V35.6H551.7V35.6H552.3V35.9H552.9V36.0H553.5V36.2H554.0V36.2H554.6V36.5H555.2V36.6H555.8V36.9H556.4V36.9H557.0V37.2H557.6V37.3H558.3V37.6H558.9V37.6H559.5V37.9H560.1V38.0H560.6V38.3H561.3V38.3H561.9V38.6H562.4V38.6H563.1V39.0H563.7V39.0H564.4V39.3H565.0V39.4H565.6V39.6H566.3V39.8H566.9V40.0H567.6V40.2H568.3V40.4H568.9V40.5H569.6V40.8H570.3V40.9H570.9V41.1H571.6V41.3H572.2V41.4H572.8V41.6H573.4V41.8H574.2V42.1H574.7V42.1H575.3V42.4H576.1V42.5H576.8V42.8H577.4V42.9H578.0V43.1H578.7V43.3H579.4V43.5H580.1V43.6H580.8V43.9H581.5V44.0H582.1V44.3H582.9V44.4H583.7V44.7H584.3V44.8H585.0V45.1H585.8V45.2H586.6V45.5H587.2V45.5H588.0V45.9H588.8V46.0H589.5V46.3H590.2V46.3H590.9V46.7H591.5V46.7H592.3V47.1H593.1V47.2H593.9V47.5H594.8V47.6H595.5V47.9H596.3V48.0H597.0V48.3H597.9V48.5H598.8V48.8H599.5V48.9H600.4V49.3H601.2V49.3H602.0V49.7H602.9V49.8H603.8V50.2H604.7V50.3H605.5V50.6H606.3V50.7H607.2V51.1H608.2V51.2H608.9V51.5H609.7V51.6H610.6V52.0H611.4V52.1H612.4V52.5H613.4V52.6H614.4V53.0H615.3V53.0H616.1V53.5H617.2V53.6H618.0V54.1H618.9V54.2H619.7V54.6H620.7V54.9H621.7V55.3H622.6V55.5H623.5V55.9H624.3V56.1H625.3V56.6H626.3V56.8H627.3V57.3H628.4V57.5H629.4V57.9H630.5V58.3H631.7V58.7H632.8V59.0H633.8V59.4H635.0V59.9H636.1V60.2H637.1V60.5H638.3V61.0H639.3V61.3H640.3V62.0H641.4V62.4H642.4V63.0H643.5V63.5H644.7V64.3H645.8V64.5H647.1V65.6H648.2V65.6H649.3V66.7H650.5V66.9H651.6V67.7H652.8V68.1H654.1V69.0H655.3V69.2H656.7V70.5H658.1V70.6H659.2V71.6H660.7V72.1H662.2V73.1H663.4V73.3H664.9V74.5H666.1V74.5H667.2V75.6H668.6V75.9H670.2V77.1H671.5V77.2H672.7V78.3H674.0V78.4H675.4V79.7H676.7V79.8H678.4V81.3H679.9V81.3H681.3V82.7H682.7V82.7H684.3V84.3H686.0V84.3H687.4V85.7H688.8V85.8H690.3V87.1H692.0V87.5H693.6V88.8H695.3V89.2H696.8V90.2H699.5V92.0H702.1V92.9H704.3V94.1H706.5V95.1H708.8V96.4H711.9V98.0H715.7V99.5H719.0V100.8H721.8V101.8H724.4V103.0H727.3V104.2H730.1V105.3H732.6V106.3H735.1V107.5H737.6V108.7H741.0V110.8H744.7V112.3H747.9V113.8H751.0V115.4H754.5V117.2H758.5V119.4H763.2V122.1H766.7V123.3H769.8V125.6H774.2V128.1H778.7V130.4H783.7V133.0H790.2V136.6H796.9V139.2H801.5V140.7H806.4V143.4H812.4V145.9H818.7V148.3H825.2V150.5H831.5V152.6H836.6V154.0H841.4V156.1H847.0V158.4H854.5V162.6H865.0V167.8H875.9V171.3H885.3V174.4H892.6V176.2H899.5V178.6H911.6"/>
<path class="d" d="M505.3 17.6V26.1M504.9 21.6h0.8M505.8 16.3V24.6M505.4 20.2h0.7M506.1 14.0V22.0M505.7 17.8h0.8M506.5 16.9V25.3M506.1 20.8h0.9M506.9 22.1V31.2M506.5 26.4h0.9M507.4 17.0V25.3M507.0 20.9h0.7M507.8 21.4V30.5M507.4 25.7h0.8M508.1 22.9V32.2M507.7 27.3h0.8M508.6 14.4V22.4M508.2 18.1h0.8M508.9 19.9V28.7M508.4 24.0h0.8M509.5 17.9V26.4M509.0 21.9h0.8M509.7 15.9V24.0M509.2 19.7h0.9M510.3 19.0V27.6M509.9 23.0h0.8M510.6 18.9V27.5M510.2 22.9h0.9M511.1 24.0V33.3M510.6 28.4h0.8M511.5 18.8V27.3M511.1 22.7h0.8M511.9 18.7V27.2M511.5 22.6h0.9M512.3 17.7V26.0M511.8 21.6h1.0M512.8 22.5V31.6M512.3 26.8h0.9M513.2 16.3V24.4M512.8 20.1h0.8M513.7 24.2V33.6M513.3 28.6h0.8M514.0 20.8V29.6M513.6 24.9h0.7M514.5 20.3V29.0M514.0 24.4h0.8M514.7 23.5V32.6M514.3 27.7h0.8M515.3 19.0V27.4M514.9 23.0h0.8M515.5 26.9V36.7M515.1 31.5h0.9M516.0 15.1V22.9M515.5 18.7h1.0M516.4 17.4V25.6M516.0 21.3h0.8M517.0 21.5V30.2M516.5 25.6h0.9M517.1 22.8V31.7M516.7 27.0h0.8M517.9 25.4V34.8M517.5 29.8h0.8M517.9 20.3V28.8M517.5 24.3h0.8M518.7 19.3V27.6M518.1 23.2h1.0M518.8 23.3V32.3M518.3 27.5h0.9M519.7 27.5V37.2M519.3 32.1h0.8M519.7 24.6V33.7M519.2 28.8h1.0M520.5 20.2V28.6M520.0 24.1h0.9M520.7 29.9V40.0M520.2 34.6h0.9M521.3 26.7V36.2M520.8 31.1h1.0M521.6 21.6V30.2M521.2 25.7h0.9M522.3 21.5V30.0M521.8 25.5h1.0M522.6 18.3V26.4M522.2 22.1h0.8M523.4 21.3V29.9M522.9 25.3h1.0M523.4 27.0V36.4M523.0 31.4h0.8M524.2 23.8V32.6M523.7 27.9h0.9M524.3 25.4V34.6M523.9 29.7h1.0M525.1 16.8V24.6M524.7 20.5h0.8M525.3 28.6V38.3M524.8 33.1h1.0M525.9 20.2V28.4M525.5 24.1h0.9M526.3 24.5V33.4M525.9 28.7h0.8M526.8 23.5V32.2M526.3 27.5h0.9M527.1 26.8V36.1M526.7 31.1h0.8M527.6 19.4V27.5M527.2 23.2h0.8M527.9 27.6V37.0M527.5 32.0h0.8M528.5 25.4V34.3M528.0 29.6h0.9M528.7 23.7V32.4M528.2 27.8h1.1M529.4 28.4V37.9M528.9 32.9h0.9M529.8 23.7V32.3M529.3 27.7h1.0M530.3 24.8V33.6M529.8 28.9h1.1M530.8 28.8V38.3M530.3 33.2h1.1M531.4 20.1V28.2M530.9 23.9h1.0M532.0 24.7V33.5M531.5 28.8h0.8M532.4 20.8V28.9M531.9 24.6h1.0M532.8 23.8V32.4M532.3 27.8h1.0M533.4 24.8V33.6M532.9 28.9h1.0M533.8 19.2V27.1M533.3 22.9h1.0M534.4 26.0V34.9M533.9 30.2h1.0M534.8 28.1V37.4M534.3 32.5h1.1M535.5 24.5V33.2M535.0 28.6h1.0M535.9 23.9V32.4M535.4 27.9h1.0M536.5 28.0V37.1M536.0 32.3h0.9M536.8 32.9V42.8M536.3 37.5h1.2M537.4 30.0V39.5M536.8 34.5h1.2M538.0 34.3V44.5M537.6 39.1h0.9M538.6 35.1V45.4M538.0 39.9h1.2M538.9 27.4V36.4M538.4 31.6h1.0M539.8 26.1V34.9M539.2 30.2h1.1M540.0 26.9V35.8M539.4 31.1h1.1M540.9 30.8V40.3M540.4 35.2h1.1M541.1 20.9V28.8M540.5 24.6h1.2M542.0 29.2V38.4M541.5 33.5h1.0M542.2 33.0V42.8M541.7 37.6h1.1M543.0 34.7V44.8M542.5 39.5h1.0M543.4 29.8V39.1M542.8 34.1h1.1M544.0 31.6V41.1M543.5 36.1h1.0M544.5 30.3V39.5M543.9 34.6h1.2M545.0 33.8V43.7M544.5 38.4h0.9M545.7 25.6V34.0M545.1 29.5h1.2M546.0 28.0V36.8M545.4 32.1h1.2M546.9 31.2V40.5M546.4 35.6h1.0M547.1 25.2V33.6M546.6 29.1h1.1M548.0 39.0V49.7M547.4 44.0h1.2M548.2 34.3V44.1M547.6 38.9h1.2M549.1 31.2V40.5M548.5 35.5h1.3M549.4 29.5V38.5M548.9 33.7h1.1M550.4 27.2V35.8M549.8 31.3h1.3M550.5 35.2V45.1M549.9 39.8h1.3M551.6 31.3V40.6M551.1 35.7h1.1M551.8 23.3V31.2M551.2 27.0h1.3M552.8 30.1V39.1M552.1 34.3h1.2M553.1 24.4V32.5M552.6 28.2h1.0M554.0 32.2V41.5M553.4 36.6h1.3M554.0 30.6V39.7M553.5 34.9h1.1M555.1 36.0V45.9M554.4 40.7h1.3M555.3 37.0V47.1M554.7 41.8h1.2M556.4 32.3V41.5M555.8 36.6h1.2M556.5 29.0V37.7M555.9 33.1h1.2M557.6 31.3V40.3M556.9 35.5h1.4M557.7 39.6V50.2M557.1 44.6h1.2M558.9 29.2V37.8M558.2 33.2h1.2M558.9 31.0V40.0M558.4 35.2h1.2M560.1 34.7V44.3M559.5 39.2h1.3M560.1 35.2V44.8M559.6 39.7h1.1M561.2 33.6V42.9M560.5 38.0h1.3M561.3 39.2V49.5M560.8 44.0h1.1M562.4 31.9V40.8M561.8 36.1h1.3M562.4 31.3V40.2M561.8 35.5h1.3M563.7 36.7V46.5M563.0 41.3h1.4M563.8 35.4V45.0M563.2 39.9h1.2M564.9 33.0V42.1M564.4 37.3h1.1M565.1 40.3V50.7M564.4 45.2h1.4M566.0 40.1V50.4M565.4 44.9h1.2M566.5 31.5V40.3M565.9 35.6h1.4M567.2 31.5V40.3M566.5 35.6h1.5M567.9 33.6V42.8M567.3 37.9h1.2M568.7 35.6V45.1M568.0 40.1h1.4M569.1 35.3V44.8M568.5 39.7h1.4M570.1 31.4V40.2M569.5 35.5h1.2M570.5 37.7V47.5M569.9 42.3h1.3M571.3 33.9V43.0M570.6 38.2h1.2M571.9 37.9V47.7M571.2 42.5h1.3M572.5 38.0V47.8M571.9 42.6h1.2M573.2 37.3V47.0M572.4 41.9h1.5M573.7 38.9V48.8M573.1 43.6h1.2M574.7 40.0V50.1M574.1 44.7h1.2M574.8 37.8V47.4M574.1 42.3h1.5M575.9 36.6V46.0M575.1 41.0h1.5M576.3 34.2V43.2M575.7 38.4h1.2M577.3 41.2V51.4M576.7 46.0h1.2M577.5 37.1V46.6M576.8 41.5h1.4M578.5 42.0V52.4M577.8 46.9h1.4M578.9 36.6V46.0M578.3 41.0h1.4M579.9 37.8V47.3M579.2 42.2h1.4M580.3 37.2V46.6M579.7 41.6h1.3M581.3 42.5V52.9M580.7 47.4h1.3M581.6 42.8V53.3M580.8 47.7h1.5M582.7 46.0V57.0M581.9 51.1h1.5M583.1 41.0V51.0M582.5 45.7h1.3M584.2 45.0V55.8M583.5 50.1h1.5M584.4 44.3V55.0M583.7 49.3h1.5M585.6 39.9V49.6M584.9 44.4h1.5M585.9 35.1V44.0M585.3 39.3h1.3M587.2 38.2V47.6M586.3 42.6h1.7M587.3 47.5V58.7M586.5 52.8h1.5M588.7 42.4V52.6M588.0 47.2h1.4M588.8 38.7V48.1M588.1 43.1h1.4M590.1 39.6V49.1M589.4 44.0h1.4M590.2 42.8V52.9M589.6 47.5h1.3M591.5 35.0V43.7M590.6 39.1h1.8M591.5 42.1V52.1M590.8 46.8h1.4M593.0 40.7V50.5M592.2 45.3h1.6M593.3 40.6V50.3M592.4 45.1h1.7M594.6 43.2V53.3M593.9 48.0h1.4M595.0 45.5V56.0M594.2 50.4h1.5M596.1 38.0V47.1M595.4 42.2h1.4M596.5 39.7V49.1M595.6 44.1h1.8M597.5 30.7V38.6M596.6 34.4h1.8M598.2 40.9V50.5M597.5 45.4h1.5M599.3 41.6V51.3M598.5 46.2h1.7M599.7 41.7V51.4M598.9 46.3h1.6M601.0 44.8V55.0M600.2 49.5h1.6M601.3 45.2V55.5M600.4 50.0h1.8M602.6 43.3V53.3M601.7 48.0h1.9M603.1 40.0V49.4M602.3 44.4h1.8M604.5 37.6V46.6M603.7 41.8h1.6M604.9 58.9V72.2M604.1 65.1h1.5M606.1 42.7V52.5M605.2 47.3h1.8M606.4 43.1V53.0M605.4 47.7h2.0M607.9 46.0V56.4M607.1 50.9h1.6M608.4 50.4V61.8M607.6 55.7h1.6M609.5 47.5V58.2M608.7 52.5h1.7M610.0 37.6V46.5M609.1 41.8h1.6M611.3 45.5V55.8M610.3 50.3h2.0M611.6 46.4V56.9M610.6 51.3h1.9M613.2 43.1V52.9M612.2 47.7h2.0M613.5 46.5V57.0M612.7 51.4h1.7M615.2 52.6V64.4M614.2 58.1h2.1M615.3 48.4V59.3M614.4 53.5h1.7M617.0 47.0V57.6M616.2 52.0h1.6M617.3 46.7V57.2M616.4 51.6h1.8M618.6 47.0V57.5M617.8 51.9h1.7M619.1 42.4V52.0M618.1 46.9h1.9M620.3 41.1V50.5M619.3 45.5h2.0M621.1 50.2V61.4M620.1 55.4h1.8M622.3 49.0V59.9M621.4 54.1h1.8M622.9 49.6V60.5M622.0 54.7h1.7M624.0 46.8V57.1M623.0 51.6h2.0M624.6 52.1V63.5M623.6 57.5h2.0M626.1 51.0V62.2M625.1 56.3h1.9M626.6 54.8V66.7M625.5 60.4h2.2M628.0 56.4V68.6M627.0 62.1h2.0M628.8 51.3V62.4M627.7 56.5h2.3M630.0 57.2V69.6M628.8 63.0h2.3M631.1 50.8V61.7M629.9 55.9h2.2M632.3 47.5V57.7M631.3 52.3h2.1M633.3 53.2V64.6M632.1 58.5h2.4M634.4 52.7V63.9M633.3 58.0h2.2M635.7 56.4V68.5M634.7 62.1h2.0M636.6 60.8V73.8M635.4 66.9h2.4M637.7 53.3V64.6M636.7 58.6h2.0M639.0 57.6V69.8M638.0 63.3h2.0M639.6 54.4V65.8M638.5 59.7h2.2M641.0 46.4V56.2M640.0 50.9h2.0M641.8 52.8V63.8M640.8 58.0h2.1M643.0 49.1V59.3M641.7 53.9h2.6M643.9 57.1V68.8M642.9 62.6h2.1M645.6 56.7V68.3M644.3 62.1h2.5M646.0 64.7V78.1M644.9 71.0h2.3M648.1 56.3V67.6M647.0 61.6h2.2M648.3 64.3V77.4M647.1 70.4h2.5M650.3 65.4V78.7M649.2 71.6h2.2M650.7 58.1V69.6M649.5 63.5h2.4M652.5 72.8V87.8M651.2 79.8h2.6M653.1 62.6V75.0M652.0 68.4h2.3M655.1 62.2V74.3M653.7 67.9h2.8M655.5 66.4V79.5M654.1 72.5h2.8M657.9 58.9V70.0M656.8 64.1h2.3M658.2 68.3V81.7M656.8 74.6h2.9M660.2 64.4V76.6M658.8 70.2h2.9M661.1 73.6V88.0M659.9 80.3h2.6M663.2 74.4V88.9M661.7 81.2h3.0M663.7 62.5V74.0M662.5 67.8h2.3M666.0 63.8V75.5M664.9 69.3h2.3M666.1 72.9V86.7M664.7 79.4h2.8M668.4 82.4V98.8M666.8 90.1h3.1M668.9 76.9V91.6M667.6 83.8h2.7M671.4 76.7V91.0M670.2 83.4h2.4M671.6 67.4V79.4M670.4 73.0h2.5M673.8 68.7V80.9M672.3 74.4h3.1M674.1 70.7V83.3M672.9 76.6h2.5M676.6 74.2V87.4M674.9 80.3h3.3M676.9 73.6V86.6M675.4 79.7h3.0M679.9 78.9V93.0M678.5 85.5h2.8M679.9 70.3V82.3M678.5 75.9h2.8M682.7 78.7V92.5M681.1 85.2h3.3M682.7 78.7V92.5M681.1 85.2h3.3M686.0 71.9V83.8M684.5 77.5h2.9M686.1 80.3V94.2M684.7 86.8h2.7M688.8 82.8V97.1M687.3 89.5h2.9M688.9 74.0V86.1M687.1 79.6h3.5M691.6 85.7V100.6M690.0 92.7h3.2M692.4 83.5V97.7M690.7 90.1h3.4M694.9 94.2V111.3M693.4 102.2h2.9M695.8 71.3V82.3M694.2 76.5h3.2M697.8 88.1V103.0M695.9 95.1h3.8M699.3 94.4V109.0M697.3 100.2h4.0M702.8 93.4V106.0M700.7 99.2h4.1M705.1 83.6V97.8M703.0 90.5h4.2M707.9 96.0V109.0M705.8 102.5h4.3M710.6 99.2V111.9M708.4 105.1h4.4M713.3 95.0V108.5M711.1 101.6h4.5M717.7 106.0V126.0M715.4 113.3h4.6M720.5 90.5V104.3M718.1 97.2h4.8M722.6 93.0V106.5M720.2 99.5h4.8M726.0 104.5V120.0M723.5 111.3h5.0M729.2 77.6V90.0M726.7 83.5h5.1M732.6 97.2V113.2M730.0 103.9h5.2M734.5 91.0V104.5M731.9 97.8h5.3M736.0 97.3V109.5M733.3 103.0h5.3M738.3 94.8V107.8M735.6 101.1h5.4M742.4 109.8V126.0M739.6 117.2h5.6M746.8 113.3V134.5M743.9 121.7h5.7M750.6 108.5V124.0M747.7 115.8h5.9M752.0 97.2V112.3M749.0 104.0h5.9M757.0 122.5V146.0M754.0 132.3h6.1M761.2 112.8V132.0M758.1 120.2h6.2M765.3 98.8V115.0M762.1 106.0h6.4M769.0 110.7V127.0M765.7 118.5h6.5M773.3 118.5V136.0M770.0 126.3h6.7M776.8 114.6V130.2M773.4 120.5h6.8M781.1 118.5V140.0M777.6 126.3h7.0M786.6 143.9V196.5M783.0 160.6h7.2M794.8 124.4V143.9M791.1 132.2h7.5M799.5 114.6V130.2M795.7 121.6h7.6M803.3 119.4V133.6M799.4 126.0h7.8M810.1 133.0V151.2M806.1 140.5h8.0M815.9 128.6V146.7M811.8 137.0h8.2M822.2 141.0V165.5M818.0 149.5h8.5M828.1 128.0V144.9M823.8 135.9h8.7M833.9 131.2V152.7M829.4 140.2h8.9M838.2 133.0V162.4M833.7 142.9h9.1M843.7 135.9V156.6M839.1 144.0h9.2M849.9 140.0V168.3M845.3 150.7h9.2M859.3 180.7V237.5M854.7 221.7h9.2M870.2 162.4V205.3M865.6 176.8h9.2M880.7 168.3V237.5M876.1 188.5h9.2M889.7 139.0V158.5M885.1 148.8h9.2M895.6 137.0V160.5M891.0 148.0h9.2M903.4 165.5V217.0M898.8 180.0h9.2"/>
<path d="M505.3 21.6h.01M505.8 20.2h.01M506.1 17.8h.01M506.5 20.8h.01M506.9 26.4h.01M507.4 20.9h.01M507.8 25.7h.01M508.1 27.3h.01M508.6 18.1h.01M508.9 24.0h.01M509.5 21.9h.01M509.7 19.7h.01M510.3 23.0h.01M510.6 22.9h.01M511.1 28.4h.01M511.5 22.7h.01M511.9 22.6h.01M512.3 21.6h.01M512.8 26.8h.01M513.2 20.1h.01M513.7 28.6h.01M514.0 24.9h.01M514.5 24.4h.01M514.7 27.7h.01M515.3 23.0h.01M515.5 31.5h.01M516.0 18.7h.01M516.4 21.3h.01M517.0 25.6h.01M517.1 27.0h.01M517.9 29.8h.01M517.9 24.3h.01M518.7 23.2h.01M518.8 27.5h.01M519.7 32.1h.01M519.7 28.8h.01M520.5 24.1h.01M520.7 34.6h.01M521.3 31.1h.01M521.6 25.7h.01M522.3 25.5h.01M522.6 22.1h.01M523.4 25.3h.01M523.4 31.4h.01M524.2 27.9h.01M524.3 29.7h.01M525.1 20.5h.01M525.3 33.1h.01M525.9 24.1h.01M526.3 28.7h.01M526.8 27.5h.01M527.1 31.1h.01M527.6 23.2h.01M527.9 32.0h.01M528.5 29.6h.01M528.7 27.8h.01M529.4 32.9h.01M529.8 27.7h.01M530.3 28.9h.01M530.8 33.2h.01M531.4 23.9h.01M532.0 28.8h.01M532.4 24.6h.01M532.8 27.8h.01M533.4 28.9h.01M533.8 22.9h.01M534.4 30.2h.01M534.8 32.5h.01M535.5 28.6h.01M535.9 27.9h.01M536.5 32.3h.01M536.8 37.5h.01M537.4 34.5h.01M538.0 39.1h.01M538.6 39.9h.01M538.9 31.6h.01M539.8 30.2h.01M540.0 31.1h.01M540.9 35.2h.01M541.1 24.6h.01M542.0 33.5h.01M542.2 37.6h.01M543.0 39.5h.01M543.4 34.1h.01M544.0 36.1h.01M544.5 34.6h.01M545.0 38.4h.01M545.7 29.5h.01M546.0 32.1h.01M546.9 35.6h.01M547.1 29.1h.01M548.0 44.0h.01M548.2 38.9h.01M549.1 35.5h.01M549.4 33.7h.01M550.4 31.3h.01M550.5 39.8h.01M551.6 35.7h.01M551.8 27.0h.01M552.8 34.3h.01M553.1 28.2h.01M554.0 36.6h.01M554.0 34.9h.01M555.1 40.7h.01M555.3 41.8h.01M556.4 36.6h.01M556.5 33.1h.01M557.6 35.5h.01M557.7 44.6h.01M558.9 33.2h.01M558.9 35.2h.01M560.1 39.2h.01M560.1 39.7h.01M561.2 38.0h.01M561.3 44.0h.01M562.4 36.1h.01M562.4 35.5h.01M563.7 41.3h.01M563.8 39.9h.01M564.9 37.3h.01M565.1 45.2h.01M566.0 44.9h.01M566.5 35.6h.01M567.2 35.6h.01M567.9 37.9h.01M568.7 40.1h.01M569.1 39.7h.01M570.1 35.5h.01M570.5 42.3h.01M571.3 38.2h.01M571.9 42.5h.01M572.5 42.6h.01M573.2 41.9h.01M573.7 43.6h.01M574.7 44.7h.01M574.8 42.3h.01M575.9 41.0h.01M576.3 38.4h.01M577.3 46.0h.01M577.5 41.5h.01M578.5 46.9h.01M578.9 41.0h.01M579.9 42.2h.01M580.3 41.6h.01M581.3 47.4h.01M581.6 47.7h.01M582.7 51.1h.01M583.1 45.7h.01M584.2 50.1h.01M584.4 49.3h.01M585.6 44.4h.01M585.9 39.3h.01M587.2 42.6h.01M587.3 52.8h.01M588.7 47.2h.01M588.8 43.1h.01M590.1 44.0h.01M590.2 47.5h.01M591.5 39.1h.01M591.5 46.8h.01M593.0 45.3h.01M593.3 45.1h.01M594.6 48.0h.01M595.0 50.4h.01M596.1 42.2h.01M596.5 44.1h.01M597.5 34.4h.01M598.2 45.4h.01M599.3 46.2h.01M599.7 46.3h.01M601.0 49.5h.01M601.3 50.0h.01M602.6 48.0h.01M603.1 44.4h.01M604.5 41.8h.01M604.9 65.1h.01M606.1 47.3h.01M606.4 47.7h.01M607.9 50.9h.01M608.4 55.7h.01M609.5 52.5h.01M610.0 41.8h.01M611.3 50.3h.01M611.6 51.3h.01M613.2 47.7h.01M613.5 51.4h.01M615.2 58.1h.01M615.3 53.5h.01M617.0 52.0h.01M617.3 51.6h.01M618.6 51.9h.01M619.1 46.9h.01M620.3 45.5h.01M621.1 55.4h.01M622.3 54.1h.01M622.9 54.7h.01M624.0 51.6h.01M624.6 57.5h.01M626.1 56.3h.01M626.6 60.4h.01M628.0 62.1h.01M628.8 56.5h.01M630.0 63.0h.01M631.1 55.9h.01M632.3 52.3h.01M633.3 58.5h.01M634.4 58.0h.01M635.7 62.1h.01M636.6 66.9h.01M637.7 58.6h.01M639.0 63.3h.01M639.6 59.7h.01M641.0 50.9h.01M641.8 58.0h.01M643.0 53.9h.01M643.9 62.6h.01M645.6 62.1h.01M646.0 71.0h.01M648.1 61.6h.01M648.3 70.4h.01M650.3 71.6h.01M650.7 63.5h.01M652.5 79.8h.01M653.1 68.4h.01M655.1 67.9h.01M655.5 72.5h.01M657.9 64.1h.01M658.2 74.6h.01M660.2 70.2h.01M661.1 80.3h.01M663.2 81.2h.01M663.7 67.8h.01M666.0 69.3h.01M666.1 79.4h.01M668.4 90.1h.01M668.9 83.8h.01M671.4 83.4h.01M671.6 73.0h.01M673.8 74.4h.01M674.1 76.6h.01M676.6 80.3h.01M676.9 79.7h.01M679.9 85.5h.01M679.9 75.9h.01M682.7 85.2h.01M682.7 85.2h.01M686.0 77.5h.01M686.1 86.8h.01M688.8 89.5h.01M688.9 79.6h.01M691.6 92.7h.01M692.4 90.1h.01M694.9 102.2h.01M695.8 76.5h.01M697.8 95.1h.01M699.3 100.2h.01M702.8 99.2h.01M705.1 90.5h.01M707.9 102.5h.01M710.6 105.1h.01M713.3 101.6h.01M717.7 113.3h.01M720.5 97.2h.01M722.6 99.5h.01M726.0 111.3h.01M729.2 83.5h.01M732.6 103.9h.01M734.5 97.8h.01M736.0 103.0h.01M738.3 101.1h.01M742.4 117.2h.01M746.8 121.7h.01M750.6 115.8h.01M752.0 104.0h.01M757.0 132.3h.01M761.2 120.2h.01M765.3 106.0h.01M769.0 118.5h.01M773.3 126.3h.01M776.8 120.5h.01M781.1 126.3h.01M786.6 160.6h.01M794.8 132.2h.01M799.5 121.6h.01M803.3 126.0h.01M810.1 140.5h.01M815.9 137.0h.01M822.2 149.5h.01M828.1 135.9h.01M833.9 140.2h.01M838.2 142.9h.01M843.7 144.0h.01M849.9 150.7h.01M859.3 221.7h.01M870.2 176.8h.01M880.7 188.5h.01M889.7 148.8h.01M895.6 148.0h.01M903.4 180.0h.01" stroke="#000" stroke-width="3.0" stroke-linecap="round" fill="none"/>
</g>
<g clip-path="url(#pc2)">
<path d="M504.6 270.3H911.6" stroke="#000" stroke-width="1.25" stroke-dasharray="1.3 2.2" fill="none"/>
<path class="d" d="M505.3 262.4v15.4M504.9 270.1h0.8M505.8 259.5v15.4M505.4 267.2h0.7M506.1 254.9v15.4M505.7 262.6h0.8M506.5 260.3v15.4M506.1 268.0h0.9M506.9 270.2v15.4M506.5 277.9h0.9M507.4 259.9v15.4M507.0 267.6h0.7M507.8 268.4v15.4M507.4 276.1h0.8M508.1 271.2v15.4M507.7 278.9h0.8M508.6 254.2v15.4M508.2 261.9h0.8M508.9 264.8v15.4M508.4 272.5h0.8M509.5 260.6v15.4M509.0 268.3h0.8M509.7 256.5v15.4M509.2 264.2h0.9M510.3 262.2v15.4M509.9 269.9h0.8M510.6 261.8v15.4M510.2 269.5h0.9M511.1 271.5v15.4M510.6 279.2h0.8M511.5 261.0v15.4M511.1 268.7h0.8M511.9 260.6v15.4M511.5 268.3h0.9M512.3 258.5v15.4M511.8 266.2h1.0M512.8 267.6v15.4M512.3 275.3h0.9M513.2 255.3v15.4M512.8 263.0h0.8M513.7 270.4v15.4M513.3 278.1h0.8M514.0 263.6v15.4M513.6 271.3h0.7M514.5 262.4v15.4M514.0 270.1h0.8M514.7 268.3v15.4M514.3 276.0h0.8M515.3 259.4v15.4M514.9 267.1h0.8M515.5 274.6v15.4M515.1 282.3h0.9M516.0 251.3v15.4M515.5 259.0h1.0M516.4 255.7v15.4M516.0 263.4h0.8M517.0 263.1v15.4M516.5 270.8h0.9M517.1 265.6v15.4M516.7 273.3h0.8M517.9 270.2v15.4M517.5 277.9h0.8M517.9 260.3v15.4M517.5 268.0h0.8M518.7 257.9v15.4M518.1 265.6h1.0M518.8 265.6v15.4M518.3 273.3h0.9M519.7 273.2v15.4M519.3 280.9h0.8M519.7 267.5v15.4M519.2 275.2h1.0M520.5 258.6v15.4M520.0 266.3h0.9M520.7 277.2v15.4M520.2 284.9h0.9M521.3 270.7v15.4M520.8 278.4h1.0M521.6 260.7v15.4M521.2 268.4h0.9M522.3 260.1v15.4M521.8 267.8h1.0M522.6 253.8v15.4M522.2 261.5h0.8M523.4 259.2v15.4M522.9 266.9h1.0M523.4 270.0v15.4M523.0 277.7h0.8M524.2 263.4v15.4M523.7 271.1h0.9M524.3 266.5v15.4M523.9 274.2h1.0M525.1 249.7v15.4M524.7 257.4h0.8M525.3 272.0v15.4M524.8 279.7h1.0M525.9 255.6v15.4M525.5 263.3h0.9M526.3 263.6v15.4M525.9 271.3h0.8M526.8 261.3v15.4M526.3 269.0h0.9M527.1 267.4v15.4M526.7 275.1h0.8M527.6 253.1v15.4M527.2 260.8h0.8M527.9 268.6v15.4M527.5 276.3h0.8M528.5 264.0v15.4M528.0 271.7h0.9M528.7 260.7v15.4M528.2 268.4h1.1M529.4 269.3v15.4M528.9 277.0h0.9M529.8 260.0v15.4M529.3 267.7h1.0M530.3 261.8v15.4M529.8 269.5h1.1M530.8 269.1v15.4M530.3 276.8h1.1M531.4 252.4v15.4M530.9 260.1h1.0M532.0 260.8v15.4M531.5 268.5h0.8M532.4 253.2v15.4M531.9 260.9h1.0M532.8 258.6v15.4M532.3 266.3h1.0M533.4 260.2v15.4M532.9 267.9h1.0M533.8 249.5v15.4M533.3 257.2h1.0M534.4 261.9v15.4M533.9 269.6h1.0M534.8 265.6v15.4M534.3 273.3h1.1M535.5 258.5v15.4M535.0 266.2h1.0M535.9 257.1v15.4M535.4 264.8h1.0M536.5 264.4v15.4M536.0 272.1h0.9M536.8 273.4v15.4M536.3 281.1h1.2M537.4 267.7v15.4M536.8 275.4h1.2M538.0 275.4v15.4M537.6 283.1h0.9M538.6 276.5v15.4M538.0 284.2h1.2M538.9 262.0v15.4M538.4 269.7h1.0M539.8 259.1v15.4M539.2 266.8h1.1M540.0 260.5v15.4M539.4 268.2h1.1M540.9 267.3v15.4M540.4 275.0h1.1M541.1 248.7v15.4M540.5 256.4h1.2M542.0 263.7v15.4M541.5 271.4h1.0M542.2 270.7v15.4M541.7 278.4h1.1M543.0 273.5v15.4M542.5 281.2h1.0M543.4 264.2v15.4M542.8 271.9h1.1M544.0 267.2v15.4M543.5 274.9h1.0M544.5 264.4v15.4M543.9 272.1h1.2M545.0 270.7v15.4M544.5 278.4h0.9M545.7 255.1v15.4M545.1 262.8h1.2M546.0 259.4v15.4M545.4 267.1h1.2M546.9 264.9v15.4M546.4 272.6h1.0M547.1 253.7v15.4M546.6 261.4h1.1M548.0 278.8v15.4M547.4 286.5h1.2M548.2 269.9v15.4M547.6 277.6h1.2M549.1 263.7v15.4M548.5 271.4h1.3M549.4 260.5v15.4M548.9 268.2h1.1M550.4 255.9v15.4M549.8 263.6h1.3M550.5 270.4v15.4M549.9 278.1h1.3M551.6 262.8v15.4M551.1 270.5h1.1M551.8 248.0v15.4M551.2 255.7h1.3M552.8 260.0v15.4M552.1 267.7h1.2M553.1 249.5v15.4M552.6 257.2h1.0M554.0 263.2v15.4M553.4 270.9h1.3M554.0 260.3v15.4M553.5 268.0h1.1M555.1 269.6v15.4M554.4 277.3h1.3M555.3 271.3v15.4M554.7 279.0h1.2M556.4 262.1v15.4M555.8 269.8h1.2M556.5 256.1v15.4M555.9 263.8h1.2M557.6 259.7v15.4M556.9 267.4h1.4M557.7 274.8v15.4M557.1 282.5h1.2M558.9 255.2v15.4M558.2 262.9h1.2M558.9 258.6v15.4M558.4 266.3h1.2M560.1 264.7v15.4M559.5 272.4h1.3M560.1 265.5v15.4M559.6 273.2h1.1M561.2 262.1v15.4M560.5 269.8h1.3M561.3 272.2v15.4M560.8 279.9h1.1M562.4 258.4v15.4M561.8 266.1h1.3M562.4 257.3v15.4M561.8 265.0h1.3M563.7 266.4v15.4M563.0 274.1h1.4M563.8 264.1v15.4M563.2 271.8h1.2M564.9 259.2v15.4M564.4 266.9h1.1M565.1 272.2v15.4M564.4 279.9h1.4M566.0 271.4v15.4M565.4 279.1h1.2M566.5 255.8v15.4M565.9 263.5h1.4M567.2 255.4v15.4M566.5 263.1h1.5M567.9 258.9v15.4M567.3 266.6h1.2M568.7 262.1v15.4M568.0 269.8h1.4M569.1 261.4v15.4M568.5 269.1h1.4M570.1 254.0v15.4M569.5 261.7h1.2M570.5 264.9v15.4M569.9 272.6h1.3M571.3 257.8v15.4M570.6 265.5h1.2M571.9 264.6v15.4M571.2 272.3h1.3M572.5 264.4v15.4M571.9 272.1h1.2M573.2 262.9v15.4M572.4 270.6h1.5M573.7 265.5v15.4M573.1 273.2h1.2M574.7 266.9v15.4M574.1 274.6h1.2M574.8 262.9v15.4M574.1 270.6h1.5M575.9 260.3v15.4M575.1 268.0h1.5M576.3 256.0v15.4M575.7 263.7h1.2M577.3 267.7v15.4M576.7 275.4h1.2M577.5 260.5v15.4M576.8 268.2h1.4M578.5 268.6v15.4M577.8 276.3h1.4M578.9 259.0v15.4M578.3 266.7h1.4M579.9 260.5v15.4M579.2 268.2h1.4M580.3 259.4v15.4M579.7 267.1h1.3M581.3 268.1v15.4M580.7 275.8h1.3M581.6 268.6v15.4M580.8 276.3h1.5M582.7 273.5v15.4M581.9 281.2h1.5M583.1 264.7v15.4M582.5 272.4h1.3M584.2 271.2v15.4M583.5 278.9h1.5M584.4 269.9v15.4M583.7 277.6h1.5M585.6 261.6v15.4M584.9 269.3h1.5M585.9 253.3v15.4M585.3 261.0h1.3M587.2 258.0v15.4M586.3 265.7h1.7M587.3 274.0v15.4M586.5 281.7h1.5M588.7 264.6v15.4M588.0 272.3h1.4M588.8 258.1v15.4M588.1 265.8h1.4M590.1 259.1v15.4M589.4 266.8h1.4M590.2 264.5v15.4M589.6 272.2h1.3M591.5 250.7v15.4M590.6 258.4h1.8M591.5 262.7v15.4M590.8 270.4h1.4M593.0 259.8v15.4M592.2 267.5h1.6M593.3 259.5v15.4M592.4 267.2h1.7M594.6 263.2v15.4M593.9 270.9h1.4M595.0 267.0v15.4M594.2 274.7h1.5M596.1 253.8v15.4M595.4 261.5h1.4M596.5 256.4v15.4M595.6 264.1h1.8M597.5 241.0v15.4M596.6 248.7h1.8M598.2 257.8v15.4M597.5 265.5h1.5M599.3 258.5v15.4M598.5 266.2h1.7M599.7 258.5v15.4M598.9 266.2h1.6M601.0 263.0v15.4M600.2 270.7h1.6M601.3 263.6v15.4M600.4 271.3h1.8M602.6 260.0v15.4M601.7 267.7h1.9M603.1 254.4v15.4M602.3 262.1h1.8M604.5 249.9v15.4M603.7 257.6h1.6M604.9 284.9v15.4M604.1 292.6h1.5M606.1 257.5v15.4M605.2 265.2h1.8M606.4 258.1v15.4M605.4 265.8h2.0M607.9 262.3v15.4M607.1 270.0h1.6M608.4 269.3v15.4M607.6 277.0h1.6M609.5 264.1v15.4M608.7 271.8h1.7M610.0 248.0v15.4M609.1 255.7h1.6M611.3 260.2v15.4M610.3 267.9h2.0M611.6 261.4v15.4M610.6 269.1h1.9M613.2 255.6v15.4M612.2 263.3h2.0M613.5 260.9v15.4M612.7 268.6h1.7M615.2 270.0v15.4M614.2 277.7h2.1M615.3 263.3v15.4M614.4 271.0h1.7M617.0 260.4v15.4M616.2 268.1h1.6M617.3 259.7v15.4M616.4 267.4h1.8M618.6 259.5v15.4M617.8 267.2h1.7M619.1 252.1v15.4M618.1 259.8h1.9M620.3 249.6v15.4M619.3 257.3h2.0M621.1 263.4v15.4M620.1 271.1h1.8M622.3 260.9v15.4M621.4 268.6h1.8M622.9 261.5v15.4M622.0 269.2h1.7M624.0 256.5v15.4M623.0 264.2h2.0M624.6 264.5v15.4M623.6 272.2h2.0M626.1 262.1v15.4M625.1 269.8h1.9M626.6 267.6v15.4M625.5 275.3h2.2M628.0 269.3v15.4M627.0 277.0h2.0M628.8 261.2v15.4M627.7 268.9h2.3M630.0 269.6v15.4M628.8 277.3h2.3M631.1 259.3v15.4M629.9 267.0h2.2M632.3 253.8v15.4M631.3 261.5h2.1M633.3 261.9v15.4M632.1 269.6h2.4M634.4 260.6v15.4M633.3 268.3h2.2M635.7 265.6v15.4M634.7 273.3h2.0M636.6 271.6v15.4M635.4 279.3h2.4M637.7 259.9v15.4M636.7 267.6h2.0M639.0 265.7v15.4M638.0 273.4h2.0M639.6 260.5v15.4M638.5 268.2h2.2M641.0 248.0v15.4M640.0 255.7h2.0M641.8 256.7v15.4M640.8 264.4h2.1M643.0 250.6v15.4M641.7 258.3h2.6M643.9 261.4v15.4M642.9 269.1h2.1M645.6 259.8v15.4M644.3 267.5h2.5M646.0 271.0v15.4M644.9 278.7h2.3M648.1 257.5v15.4M647.0 265.2h2.2M648.3 268.8v15.4M647.1 276.5h2.5M650.3 269.0v15.4M649.2 276.7h2.2M650.7 258.2v15.4M649.5 265.9h2.4M652.5 278.0v15.4M651.2 285.7h2.6M653.1 263.0v15.4M652.0 270.7h2.3M655.1 261.1v15.4M653.7 268.8h2.8M655.5 266.7v15.4M654.1 274.4h2.8M657.9 254.6v15.4M656.8 262.3h2.3M658.2 267.6v15.4M656.8 275.3h2.9M660.2 260.8v15.4M658.8 268.5h2.9M661.1 272.9v15.4M659.9 280.6h2.6M663.2 272.7v15.4M661.7 280.4h3.0M663.7 255.8v15.4M662.5 263.5h2.3M666.0 256.2v15.4M664.9 263.9h2.3M666.1 268.6v15.4M664.7 276.3h2.8M668.4 280.3v15.4M666.8 288.0h3.1M668.9 272.2v15.4M667.6 279.9h2.7M671.4 270.2v15.4M670.2 277.9h2.4M671.6 257.5v15.4M670.4 265.2h2.5M673.8 257.9v15.4M672.3 265.6h3.1M674.1 260.4v15.4M672.9 268.1h2.5M676.6 263.4v15.4M674.9 271.1h3.3M676.9 262.4v15.4M675.4 270.1h3.0M679.9 267.6v15.4M678.5 275.3h2.8M679.9 256.2v15.4M678.5 263.9h2.8M682.7 265.5v15.4M681.1 273.2h3.3M682.7 265.5v15.4M681.1 273.2h3.3M686.0 254.7v15.4M684.5 262.4h2.9M686.1 265.5v15.4M684.7 273.2h2.7M688.8 267.0v15.4M687.3 274.7h2.9M688.9 255.5v15.4M687.1 263.2h3.5M691.6 269.0v15.4M690.0 276.7h3.2M692.4 265.6v15.4M690.7 273.3h3.4M694.9 278.0v15.4M693.4 285.7h2.9M695.8 248.0v15.4M694.2 255.7h3.2M697.8 268.1v15.4M695.9 275.8h3.8M701.3 273.9v15.4M699.2 281.6h4.0M703.0 270.1v15.4M701.0 277.8h4.1M705.5 261.4v15.4M703.4 269.1h4.2M707.5 268.9v15.4M705.4 276.6h4.3M710.0 275.1v15.4M707.8 282.8h4.4M713.8 266.4v15.4M711.5 274.1h4.5M717.5 276.4v15.4M715.2 284.1h4.6M720.6 257.6v15.4M718.2 265.3h4.8M723.1 263.9v15.4M720.6 271.6h4.8M725.8 275.1v15.4M723.3 282.8h4.9M728.8 243.8v15.4M726.3 251.5h5.1M731.3 262.6v15.4M728.8 270.3h5.1M733.8 252.6v15.4M731.2 260.3h5.2M736.3 256.3v15.4M733.7 264.0h5.3M738.8 257.6v15.4M736.1 265.3h5.4M743.1 267.6v15.4M740.3 275.3h5.6M746.4 270.1v15.4M743.5 277.8h5.7M749.4 263.9v15.4M746.5 271.6h5.8M752.6 252.6v15.4M749.7 260.3h5.9M756.4 275.1v15.4M753.4 282.8h6.1M760.7 262.6v15.4M757.5 270.3h6.2M765.7 247.6v15.4M762.5 255.3h6.4M767.7 252.6v15.4M764.4 260.3h6.5M771.9 262.6v15.4M768.6 270.3h6.6M776.4 255.1v15.4M773.0 262.8h6.8M781.0 262.6v15.4M777.5 270.3h7.0M786.5 277.7v15.4M782.9 285.4h7.2M794.0 262.6v15.4M790.3 270.3h7.4M799.7 251.3v15.4M795.9 259.0h7.7M803.3 251.3v15.4M799.4 259.0h7.8M809.5 261.4v15.4M805.5 269.1h8.0M815.3 257.6v15.4M811.2 265.3h8.2M822.1 263.9v15.4M817.8 271.6h8.5M828.3 252.6v15.4M824.0 260.3h8.7M834.6 256.3v15.4M830.1 264.0h8.9M838.6 257.6v15.4M834.1 265.3h9.1M844.1 255.1v15.4M839.5 262.8h9.2M849.9 258.9v15.4M845.3 266.6h9.2M859.1 278.9v15.4M854.5 286.6h9.2M870.9 267.6v15.4M866.3 275.3h9.2M881.0 269.6v15.4M876.4 277.3h9.2M889.7 248.1v15.4M885.1 255.8h9.2M895.5 250.1v15.4M890.9 257.8h9.2M903.5 263.4v15.4M898.9 271.1h9.2"/>
<path d="M505.3 270.1h.01M505.8 267.2h.01M506.1 262.6h.01M506.5 268.0h.01M506.9 277.9h.01M507.4 267.6h.01M507.8 276.1h.01M508.1 278.9h.01M508.6 261.9h.01M508.9 272.5h.01M509.5 268.3h.01M509.7 264.2h.01M510.3 269.9h.01M510.6 269.5h.01M511.1 279.2h.01M511.5 268.7h.01M511.9 268.3h.01M512.3 266.2h.01M512.8 275.3h.01M513.2 263.0h.01M513.7 278.1h.01M514.0 271.3h.01M514.5 270.1h.01M514.7 276.0h.01M515.3 267.1h.01M515.5 282.3h.01M516.0 259.0h.01M516.4 263.4h.01M517.0 270.8h.01M517.1 273.3h.01M517.9 277.9h.01M517.9 268.0h.01M518.7 265.6h.01M518.8 273.3h.01M519.7 280.9h.01M519.7 275.2h.01M520.5 266.3h.01M520.7 284.9h.01M521.3 278.4h.01M521.6 268.4h.01M522.3 267.8h.01M522.6 261.5h.01M523.4 266.9h.01M523.4 277.7h.01M524.2 271.1h.01M524.3 274.2h.01M525.1 257.4h.01M525.3 279.7h.01M525.9 263.3h.01M526.3 271.3h.01M526.8 269.0h.01M527.1 275.1h.01M527.6 260.8h.01M527.9 276.3h.01M528.5 271.7h.01M528.7 268.4h.01M529.4 277.0h.01M529.8 267.7h.01M530.3 269.5h.01M530.8 276.8h.01M531.4 260.1h.01M532.0 268.5h.01M532.4 260.9h.01M532.8 266.3h.01M533.4 267.9h.01M533.8 257.2h.01M534.4 269.6h.01M534.8 273.3h.01M535.5 266.2h.01M535.9 264.8h.01M536.5 272.1h.01M536.8 281.1h.01M537.4 275.4h.01M538.0 283.1h.01M538.6 284.2h.01M538.9 269.7h.01M539.8 266.8h.01M540.0 268.2h.01M540.9 275.0h.01M541.1 256.4h.01M542.0 271.4h.01M542.2 278.4h.01M543.0 281.2h.01M543.4 271.9h.01M544.0 274.9h.01M544.5 272.1h.01M545.0 278.4h.01M545.7 262.8h.01M546.0 267.1h.01M546.9 272.6h.01M547.1 261.4h.01M548.0 286.5h.01M548.2 277.6h.01M549.1 271.4h.01M549.4 268.2h.01M550.4 263.6h.01M550.5 278.1h.01M551.6 270.5h.01M551.8 255.7h.01M552.8 267.7h.01M553.1 257.2h.01M554.0 270.9h.01M554.0 268.0h.01M555.1 277.3h.01M555.3 279.0h.01M556.4 269.8h.01M556.5 263.8h.01M557.6 267.4h.01M557.7 282.5h.01M558.9 262.9h.01M558.9 266.3h.01M560.1 272.4h.01M560.1 273.2h.01M561.2 269.8h.01M561.3 279.9h.01M562.4 266.1h.01M562.4 265.0h.01M563.7 274.1h.01M563.8 271.8h.01M564.9 266.9h.01M565.1 279.9h.01M566.0 279.1h.01M566.5 263.5h.01M567.2 263.1h.01M567.9 266.6h.01M568.7 269.8h.01M569.1 269.1h.01M570.1 261.7h.01M570.5 272.6h.01M571.3 265.5h.01M571.9 272.3h.01M572.5 272.1h.01M573.2 270.6h.01M573.7 273.2h.01M574.7 274.6h.01M574.8 270.6h.01M575.9 268.0h.01M576.3 263.7h.01M577.3 275.4h.01M577.5 268.2h.01M578.5 276.3h.01M578.9 266.7h.01M579.9 268.2h.01M580.3 267.1h.01M581.3 275.8h.01M581.6 276.3h.01M582.7 281.2h.01M583.1 272.4h.01M584.2 278.9h.01M584.4 277.6h.01M585.6 269.3h.01M585.9 261.0h.01M587.2 265.7h.01M587.3 281.7h.01M588.7 272.3h.01M588.8 265.8h.01M590.1 266.8h.01M590.2 272.2h.01M591.5 258.4h.01M591.5 270.4h.01M593.0 267.5h.01M593.3 267.2h.01M594.6 270.9h.01M595.0 274.7h.01M596.1 261.5h.01M596.5 264.1h.01M597.5 248.7h.01M598.2 265.5h.01M599.3 266.2h.01M599.7 266.2h.01M601.0 270.7h.01M601.3 271.3h.01M602.6 267.7h.01M603.1 262.1h.01M604.5 257.6h.01M604.9 292.6h.01M606.1 265.2h.01M606.4 265.8h.01M607.9 270.0h.01M608.4 277.0h.01M609.5 271.8h.01M610.0 255.7h.01M611.3 267.9h.01M611.6 269.1h.01M613.2 263.3h.01M613.5 268.6h.01M615.2 277.7h.01M615.3 271.0h.01M617.0 268.1h.01M617.3 267.4h.01M618.6 267.2h.01M619.1 259.8h.01M620.3 257.3h.01M621.1 271.1h.01M622.3 268.6h.01M622.9 269.2h.01M624.0 264.2h.01M624.6 272.2h.01M626.1 269.8h.01M626.6 275.3h.01M628.0 277.0h.01M628.8 268.9h.01M630.0 277.3h.01M631.1 267.0h.01M632.3 261.5h.01M633.3 269.6h.01M634.4 268.3h.01M635.7 273.3h.01M636.6 279.3h.01M637.7 267.6h.01M639.0 273.4h.01M639.6 268.2h.01M641.0 255.7h.01M641.8 264.4h.01M643.0 258.3h.01M643.9 269.1h.01M645.6 267.5h.01M646.0 278.7h.01M648.1 265.2h.01M648.3 276.5h.01M650.3 276.7h.01M650.7 265.9h.01M652.5 285.7h.01M653.1 270.7h.01M655.1 268.8h.01M655.5 274.4h.01M657.9 262.3h.01M658.2 275.3h.01M660.2 268.5h.01M661.1 280.6h.01M663.2 280.4h.01M663.7 263.5h.01M666.0 263.9h.01M666.1 276.3h.01M668.4 288.0h.01M668.9 279.9h.01M671.4 277.9h.01M671.6 265.2h.01M673.8 265.6h.01M674.1 268.1h.01M676.6 271.1h.01M676.9 270.1h.01M679.9 275.3h.01M679.9 263.9h.01M682.7 273.2h.01M682.7 273.2h.01M686.0 262.4h.01M686.1 273.2h.01M688.8 274.7h.01M688.9 263.2h.01M691.6 276.7h.01M692.4 273.3h.01M694.9 285.7h.01M695.8 255.7h.01M697.8 275.8h.01M701.3 281.6h.01M703.0 277.8h.01M705.5 269.1h.01M707.5 276.6h.01M710.0 282.8h.01M713.8 274.1h.01M717.5 284.1h.01M720.6 265.3h.01M723.1 271.6h.01M725.8 282.8h.01M728.8 251.5h.01M731.3 270.3h.01M733.8 260.3h.01M736.3 264.0h.01M738.8 265.3h.01M743.1 275.3h.01M746.4 277.8h.01M749.4 271.6h.01M752.6 260.3h.01M756.4 282.8h.01M760.7 270.3h.01M765.7 255.3h.01M767.7 260.3h.01M771.9 270.3h.01M776.4 262.8h.01M781.0 270.3h.01M786.5 285.4h.01M794.0 270.3h.01M799.7 259.0h.01M803.3 259.0h.01M809.5 269.1h.01M815.3 265.3h.01M822.1 271.6h.01M828.3 260.3h.01M834.6 264.0h.01M838.6 265.3h.01M844.1 262.8h.01M849.9 266.6h.01M859.1 286.6h.01M870.9 275.3h.01M881.0 277.3h.01M889.7 255.8h.01M895.5 257.8h.01M903.5 271.1h.01" stroke="#000" stroke-width="3.0" stroke-linecap="round" fill="none"/>
</g>
<rect class="ax" x="504.6" y="5.7" width="407.0" height="226.8"/>
<rect class="ax" x="504.6" y="232.5" width="407.0" height="75.69999999999999"/>
<path class="tk" d="M504.6 225.8h-1.8M504.6 217.3h-1.8M504.6 210.8h-1.8M504.6 205.4h-1.8M504.6 200.9h-1.8M504.6 197.0h-1.8M504.6 193.5h-1.8M504.6 190.4h-3.1M504.6 170.0h-1.8M504.6 158.1h-1.8M504.6 149.6h-1.8M504.6 143.1h-1.8M504.6 137.7h-1.8M504.6 133.2h-1.8M504.6 129.3h-1.8M504.6 125.8h-1.8M504.6 122.7h-3.1M504.6 102.3h-1.8M504.6 90.4h-1.8M504.6 81.9h-1.8M504.6 75.4h-1.8M504.6 70.0h-1.8M504.6 65.5h-1.8M504.6 61.6h-1.8M504.6 58.1h-1.8M504.6 55.0h-3.1M504.6 34.6h-1.8M504.6 22.7h-1.8M504.6 14.2h-1.8M504.6 7.7h-1.8M504.6 251.1h-3.1M504.6 270.3h-3.1M504.6 289.6h-3.1M601.8 308.2v3.1M738.9 308.2v3.1M836.0 308.2v3.1M911.6 308.2v3.1"/>
<text class="s" x="468.7" y="60.0">10<tspan dy="-4.3" dx="0.6" font-size="8.6px">−3</tspan></text>
<text class="s" x="468.7" y="127.7">10<tspan dy="-4.3" dx="0.6" font-size="8.6px">−4</tspan></text>
<text class="s" x="468.7" y="195.4">10<tspan dy="-4.3" dx="0.6" font-size="8.6px">−5</tspan></text>
<text class="s" x="497.2" y="255.7" text-anchor="end">2.5</text>
<text class="s" x="497.2" y="274.9" text-anchor="end">0.0</text>
<text class="s" x="497.2" y="294.2" text-anchor="end">−2.5</text>
<text class="s" x="601.8" y="324.2" text-anchor="middle">20</text>
<text class="s" x="738.9" y="324.2" text-anchor="middle">30</text>
<text class="s" x="836.0" y="324.2" text-anchor="middle">40</text>
<text class="s" x="910.4" y="324.2" text-anchor="middle">50</text>
<text class="t" x="708.1" y="340.7" text-anchor="middle" font-size="13.7px">E (keV)</text>
<text class="t" transform="translate(451.9 119.6) rotate(-90)" text-anchor="middle" font-size="13.7px">counts / s / keV</text>
<text class="s" transform="translate(445.6 270.7) rotate(-90)" text-anchor="middle" font-size="12.5px">(data − model)</text>
<path d="M450.0 222.8V317.2" stroke="#000" stroke-width=".9"/>
<text class="s" transform="translate(460.0 271.0) rotate(-90)" text-anchor="middle">error</text>
</svg></body></html>
